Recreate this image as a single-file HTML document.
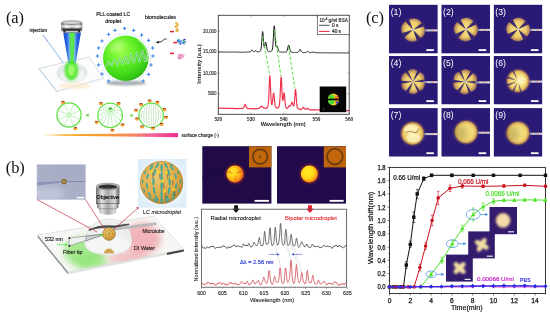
<!DOCTYPE html>
<html><head><meta charset="utf-8"><title>LC microdroplet biosensing figure</title>
<style>
html,body{margin:0;padding:0;background:#fff;}
body{width:550px;height:317px;overflow:hidden;font-family:"Liberation Sans",sans-serif;}
svg{display:block}
</style></head><body>
<svg width="550" height="317" viewBox="0 0 550 317">
<defs>
<filter id="b03" x="-20%" y="-20%" width="140%" height="140%"><feGaussianBlur stdDeviation="0.3"/></filter>
<filter id="b05" x="-20%" y="-20%" width="140%" height="140%"><feGaussianBlur stdDeviation="0.5"/></filter>
<filter id="b07" x="-20%" y="-20%" width="140%" height="140%"><feGaussianBlur stdDeviation="0.75"/></filter>
<filter id="b09" x="-20%" y="-20%" width="140%" height="140%"><feGaussianBlur stdDeviation="0.9"/></filter>
<filter id="b1" x="-30%" y="-30%" width="160%" height="160%"><feGaussianBlur stdDeviation="1"/></filter>
<filter id="b2" x="-50%" y="-50%" width="200%" height="200%"><feGaussianBlur stdDeviation="2"/></filter>
<filter id="b3" x="-50%" y="-50%" width="200%" height="200%"><feGaussianBlur stdDeviation="3"/></filter>
<radialGradient id="gsphere" cx="0.38" cy="0.32" r="0.75">
<stop offset="0" stop-color="#a4ff50"/><stop offset="0.45" stop-color="#5cee22"/><stop offset="0.85" stop-color="#36cc16"/><stop offset="1" stop-color="#24a412"/>
</radialGradient>
<radialGradient id="gglow" cx="0.5" cy="0.5" r="0.5">
<stop offset="0" stop-color="#7dff3a" stop-opacity="1"/><stop offset="0.5" stop-color="#4ae020" stop-opacity="0.8"/><stop offset="1" stop-color="#4ae020" stop-opacity="0"/>
</radialGradient>
<linearGradient id="gbar" x1="0" x2="1" y1="0" y2="0">
<stop offset="0" stop-color="#fbc040" stop-opacity="0.25"/><stop offset="0.15" stop-color="#f9aa22"/><stop offset="0.48" stop-color="#f79a36"/><stop offset="0.66" stop-color="#f48660"/><stop offset="0.82" stop-color="#f0609a"/><stop offset="1" stop-color="#ee2f8c"/>
</linearGradient>
<linearGradient id="gcone" x1="0" x2="1" y1="0" y2="0">
<stop offset="0" stop-color="#1a44d0"/><stop offset="0.22" stop-color="#2a68e4"/><stop offset="0.38" stop-color="#7ac0e0"/><stop offset="0.5" stop-color="#6ae060"/><stop offset="0.62" stop-color="#7ac0e0"/><stop offset="0.78" stop-color="#2a68e4"/><stop offset="1" stop-color="#1a44d0"/>
</linearGradient>
<linearGradient id="gmetal" x1="0" x2="1" y1="0" y2="0">
<stop offset="0" stop-color="#6d6d6d"/><stop offset="0.25" stop-color="#e2e2e2"/><stop offset="0.5" stop-color="#a8a8a8"/><stop offset="0.8" stop-color="#dcdcdc"/><stop offset="1" stop-color="#5c5c5c"/>
</linearGradient>
<radialGradient id="ggold" cx="0.4" cy="0.35" r="0.75">
<stop offset="0" stop-color="#ecc970"/><stop offset="0.6" stop-color="#dcaa48"/><stop offset="1" stop-color="#b07e2a"/>
</radialGradient>
<radialGradient id="gflower" cx="0.5" cy="0.5" r="0.5">
<stop offset="0" stop-color="#e8c868"/><stop offset="0.4" stop-color="#f7e07a"/><stop offset="0.72" stop-color="#ecc868"/><stop offset="0.9" stop-color="#c9965a"/><stop offset="1" stop-color="#8a5a6a" stop-opacity="0.6"/>
</radialGradient>
<radialGradient id="gball" cx="0.5" cy="0.5" r="0.5">
<stop offset="0" stop-color="#fbe98c"/><stop offset="0.7" stop-color="#f1d472"/><stop offset="0.9" stop-color="#c99a55"/><stop offset="1" stop-color="#7a4a6a" stop-opacity="0.5"/>
</radialGradient>
<radialGradient id="gor1" cx="0.36" cy="0.42" r="0.66">
<stop offset="0" stop-color="#fff030"/><stop offset="0.42" stop-color="#ffd01e"/><stop offset="0.78" stop-color="#ff9614"/><stop offset="1" stop-color="#e8501a"/>
</radialGradient>
<radialGradient id="gor2" cx="0.4" cy="0.4" r="0.66">
<stop offset="0" stop-color="#fff020"/><stop offset="0.55" stop-color="#ffd818"/><stop offset="0.82" stop-color="#ffa014"/><stop offset="1" stop-color="#e8601a"/>
</radialGradient>
<linearGradient id="gslideG" x1="0" x2="1" y1="0" y2="0">
<stop offset="0" stop-color="#dff2d2"/><stop offset="0.55" stop-color="#7fd46a"/><stop offset="1" stop-color="#7fd46a" stop-opacity="0"/>
</linearGradient>
<linearGradient id="gslideR" x1="0" x2="1" y1="0" y2="0">
<stop offset="0" stop-color="#e88a92" stop-opacity="0.9"/><stop offset="0.6" stop-color="#efb4b8"/><stop offset="1" stop-color="#f6e4e4"/>
</linearGradient>
<clipPath id="slideclip"><polygon points="37.6,235 153.6,216 183.8,249.4 68,272"/></clipPath>
</defs>
<rect width="550" height="317" fill="#ffffff"/>

<g id="panel-a">
<text x="5.9" y="22.5" font-size="16.4" fill="#111" text-anchor="start" font-family="Liberation Serif, serif" >(a)</text>
<text x="29.6" y="31.6" font-size="4.75" fill="#1c1c1c" text-anchor="start" font-family="Liberation Sans, sans-serif" stroke="#1c1c1c" stroke-width="0.16" >injection</text>
<polygon points="39,68.4 89,57 103.6,78 57,91.4" fill="#fcfcfa" stroke="#b4c8d4" stroke-width="0.6"/>
<polygon points="39,68.4 57,91.4 57,92.6 39,69.6" fill="#a9cfe6"/>
<polygon points="57,91.4 103.6,78 103.6,79 57,92.6" fill="#e3ecef"/>
<ellipse cx="75" cy="86" rx="16" ry="3" fill="#fbe6c8" opacity="0.7" filter="url(#b1)"/>
<ellipse cx="72" cy="73" rx="15" ry="9.5" fill="#e4ebeb" stroke="#c2d0d4" stroke-width="0.4"/>
<ellipse cx="73" cy="76" rx="12" ry="6" fill="#f6f8f8" opacity="0.8" filter="url(#b1)"/>
<line x1="47" y1="40.5" x2="63.5" y2="63" stroke="#cfe3f2" stroke-width="1.6"/>
<line x1="43" y1="35" x2="47.5" y2="41" stroke="#3a6ac8" stroke-width="0.7"/>
<line x1="47" y1="40.5" x2="63.5" y2="63" stroke="#8ab4dc" stroke-width="0.4"/>
<polygon points="63.2,32.5 81,32.5 75.5,64 68.5,64" fill="url(#gcone)" filter="url(#b03)"/>
<polygon points="69.6,32.5 74.8,32.5 73.2,68 70.8,68" fill="#58e848" filter="url(#b07)" opacity="0.95"/>
<rect x="61.2" y="22" width="21" height="9.5" rx="1.5" fill="url(#gmetal)"/>
<ellipse cx="71.7" cy="22.6" rx="10.2" ry="1.9" fill="#cfcfcf" stroke="#555" stroke-width="0.5"/>
<rect x="61.4" y="25.6" width="20.6" height="1.5" fill="#f4f4f4" opacity="0.85"/>
<path d="M62.5,28.5 h18.4 l-1.2,4 h-16z" fill="#2e2e2e"/>
<rect x="65.5" y="30.8" width="12.5" height="1.5" fill="#c8c8c8"/>
<ellipse cx="71.4" cy="70.5" rx="7" ry="10" fill="#4ce42c" opacity="0.9" filter="url(#b1)"/>
<ellipse cx="71.3" cy="70" rx="3.6" ry="6" fill="#a8ff70" opacity="0.9" filter="url(#b1)"/>
<ellipse cx="126" cy="83" rx="20" ry="2.6" fill="#8a8f94" opacity="0.75" filter="url(#b1)"/>
<circle cx="125.8" cy="58.3" r="24.8" fill="none" stroke="#b9daf2" stroke-width="1.1" stroke-dasharray="1.2 1.4" opacity="0.9"/>
<circle cx="125.8" cy="58.3" r="22.8" fill="url(#gsphere)"/>
<ellipse cx="117" cy="46" rx="8" ry="4" fill="#dcffb8" opacity="0.4" filter="url(#b2)" transform="rotate(-30 117 46)"/>
<path d="M138,40 a22,22 0 0 1 9,22" fill="none" stroke="#d8ffc0" stroke-width="1.2" opacity="0.5" filter="url(#b05)"/>
<polyline points="105.5,66.2 105.7,66.3 106.0,66.2 106.2,66.0 106.5,65.7 106.7,65.3 107.0,64.7 107.2,64.2 107.5,63.6 107.7,63.0 107.9,62.5 108.2,62.1 108.4,61.8 108.7,61.7 108.9,61.7 109.2,61.9 109.4,62.2 109.7,62.6 109.9,63.1 110.1,63.7 110.4,64.2 110.6,64.7 110.9,65.2 111.1,65.4 111.4,65.5 111.6,65.5 111.8,65.2 112.1,64.8 112.3,64.3 112.6,63.6 112.8,62.9 113.1,62.1 113.3,61.4 113.6,60.8 113.8,60.3 114.0,59.9 114.3,59.8 114.5,59.9 114.8,60.1 115.0,60.5 115.3,61.1 115.5,61.8 115.8,62.5 116.0,63.2 116.2,63.8 116.5,64.3 116.7,64.7 117.0,64.8 117.2,64.7 117.5,64.5 117.7,64.0 118.0,63.3 118.2,62.5 118.4,61.6 118.7,60.7 118.9,59.8 119.2,59.1 119.4,58.5 119.7,58.1 119.9,58.0 120.1,58.0 120.4,58.4 120.6,58.9 120.9,59.6 121.1,60.4 121.4,61.3 121.6,62.2 121.9,62.9 122.1,63.5 122.3,63.9 122.6,64.1 122.8,64.0 123.1,63.7 123.3,63.1 123.6,62.3 123.8,61.3 124.1,60.3 124.3,59.2 124.5,58.2 124.8,57.4 125.0,56.7 125.3,56.3 125.5,56.1 125.8,56.2 126.0,56.6 126.2,57.3 126.5,58.1 126.7,59.1 127.0,60.1 127.2,61.1 127.5,62.0 127.7,62.7 128.0,63.2 128.2,63.4 128.4,63.3 128.7,62.9 128.9,62.2 129.2,61.3 129.4,60.2 129.7,59.0 129.9,57.7 130.2,56.6 130.4,55.6 130.6,54.9 130.9,54.4 131.1,54.2 131.4,54.4 131.6,54.9 131.9,55.7 132.1,56.6 132.4,57.8 132.6,58.9 132.8,60.1 133.1,61.1 133.3,61.9 133.6,62.5 133.8,62.7 134.1,62.5 134.3,62.1 134.6,61.3 134.8,60.2 135.0,59.0 135.3,57.6 135.5,56.3 135.8,55.0 136.0,53.9 136.3,53.1 136.5,52.6 136.7,52.4 137.0,52.6 137.2,53.2 137.5,54.1 137.7,55.2 138.0,56.4 138.2,57.8 138.5,59.1 138.7,60.2 138.9,61.1 139.2,61.7 139.4,62.0 139.7,61.8 139.9,61.3 140.2,60.4 140.4,59.2 140.7,57.8 140.9,56.3 141.1,54.8 141.4,53.4 141.6,52.2 141.9,51.3 142.1,50.7 142.4,50.6 142.6,50.8 142.8,51.5 143.1,52.4 143.3,53.7 143.6,55.1 143.8,56.6 144.1,58.1 144.3,59.3 144.6,60.3 144.8,61.0 145.0,61.2 145.3,61.1 145.5,60.5 145.8,59.5 146.0,58.2 146.3,56.6 146.5,55.0 146.8,53.3 147.0,51.8" fill="none" stroke="#e4ffd8" stroke-width="1.7" opacity="0.7" filter="url(#b03)"/>
<polyline points="105.5,66.2 105.7,66.3 106.0,66.2 106.2,66.0 106.5,65.7 106.7,65.3 107.0,64.7 107.2,64.2 107.5,63.6 107.7,63.0 107.9,62.5 108.2,62.1 108.4,61.8 108.7,61.7 108.9,61.7 109.2,61.9 109.4,62.2 109.7,62.6 109.9,63.1 110.1,63.7 110.4,64.2 110.6,64.7 110.9,65.2 111.1,65.4 111.4,65.5 111.6,65.5 111.8,65.2 112.1,64.8 112.3,64.3 112.6,63.6 112.8,62.9 113.1,62.1 113.3,61.4 113.6,60.8 113.8,60.3 114.0,59.9 114.3,59.8 114.5,59.9 114.8,60.1 115.0,60.5 115.3,61.1 115.5,61.8 115.8,62.5 116.0,63.2 116.2,63.8 116.5,64.3 116.7,64.7 117.0,64.8 117.2,64.7 117.5,64.5 117.7,64.0 118.0,63.3 118.2,62.5 118.4,61.6 118.7,60.7 118.9,59.8 119.2,59.1 119.4,58.5 119.7,58.1 119.9,58.0 120.1,58.0 120.4,58.4 120.6,58.9 120.9,59.6 121.1,60.4 121.4,61.3 121.6,62.2 121.9,62.9 122.1,63.5 122.3,63.9 122.6,64.1 122.8,64.0 123.1,63.7 123.3,63.1 123.6,62.3 123.8,61.3 124.1,60.3 124.3,59.2 124.5,58.2 124.8,57.4 125.0,56.7 125.3,56.3 125.5,56.1 125.8,56.2 126.0,56.6 126.2,57.3 126.5,58.1 126.7,59.1 127.0,60.1 127.2,61.1 127.5,62.0 127.7,62.7 128.0,63.2 128.2,63.4 128.4,63.3 128.7,62.9 128.9,62.2 129.2,61.3 129.4,60.2 129.7,59.0 129.9,57.7 130.2,56.6 130.4,55.6 130.6,54.9 130.9,54.4 131.1,54.2 131.4,54.4 131.6,54.9 131.9,55.7 132.1,56.6 132.4,57.8 132.6,58.9 132.8,60.1 133.1,61.1 133.3,61.9 133.6,62.5 133.8,62.7 134.1,62.5 134.3,62.1 134.6,61.3 134.8,60.2 135.0,59.0 135.3,57.6 135.5,56.3 135.8,55.0 136.0,53.9 136.3,53.1 136.5,52.6 136.7,52.4 137.0,52.6 137.2,53.2 137.5,54.1 137.7,55.2 138.0,56.4 138.2,57.8 138.5,59.1 138.7,60.2 138.9,61.1 139.2,61.7 139.4,62.0 139.7,61.8 139.9,61.3 140.2,60.4 140.4,59.2 140.7,57.8 140.9,56.3 141.1,54.8 141.4,53.4 141.6,52.2 141.9,51.3 142.1,50.7 142.4,50.6 142.6,50.8 142.8,51.5 143.1,52.4 143.3,53.7 143.6,55.1 143.8,56.6 144.1,58.1 144.3,59.3 144.6,60.3 144.8,61.0 145.0,61.2 145.3,61.1 145.5,60.5 145.8,59.5 146.0,58.2 146.3,56.6 146.5,55.0 146.8,53.3 147.0,51.8" fill="none" stroke="#28a848" stroke-width="0.7" opacity="0.95"/>
<path d="M113.3,30.4h3.4M115.0,28.7v3.4" stroke="#3b82e6" stroke-width="1"/>
<path d="M122.9,28.4h3.4M124.6,26.7v3.4" stroke="#3b82e6" stroke-width="1"/>
<path d="M131.9,30.4h3.4M133.6,28.7v3.4" stroke="#3b82e6" stroke-width="1"/>
<path d="M139.9,35.0h3.4M141.6,33.3v3.4" stroke="#3b82e6" stroke-width="1"/>
<path d="M146.9,40.4h3.4M148.6,38.7v3.4" stroke="#3b82e6" stroke-width="1"/>
<path d="M150.9,48.0h3.4M152.6,46.3v3.4" stroke="#3b82e6" stroke-width="1"/>
<path d="M151.3,56.0h3.4M153.0,54.3v3.4" stroke="#3b82e6" stroke-width="1"/>
<path d="M149.3,65.0h3.4M151.0,63.3v3.4" stroke="#3b82e6" stroke-width="1"/>
<path d="M146.9,74.4h3.4M148.6,72.7v3.4" stroke="#3b82e6" stroke-width="1"/>
<path d="M141.3,81.0h3.4M143.0,79.3v3.4" stroke="#3b82e6" stroke-width="1"/>
<path d="M106.9,34.4h3.4M108.6,32.7v3.4" stroke="#3b82e6" stroke-width="1"/>
<path d="M100.3,41.0h3.4M102.0,39.3v3.4" stroke="#3b82e6" stroke-width="1"/>
<path d="M96.9,48.0h3.4M98.6,46.3v3.4" stroke="#3b82e6" stroke-width="1"/>
<path d="M95.7,56.0h3.4M97.4,54.3v3.4" stroke="#3b82e6" stroke-width="1"/>
<path d="M96.9,65.0h3.4M98.6,63.3v3.4" stroke="#3b82e6" stroke-width="1"/>
<path d="M100.3,74.0h3.4M102.0,72.3v3.4" stroke="#3b82e6" stroke-width="1"/>
<path d="M106.9,81.0h3.4M108.6,79.3v3.4" stroke="#3b82e6" stroke-width="1"/>
<text x="113.2" y="16.2" font-size="5.2" fill="#1c1c1c" text-anchor="middle" font-family="Liberation Sans, sans-serif" stroke="#1c1c1c" stroke-width="0.18" >PLL coated LC</text>
<text x="113.2" y="22.8" font-size="5.2" fill="#1c1c1c" text-anchor="middle" font-family="Liberation Sans, sans-serif" stroke="#1c1c1c" stroke-width="0.18" >droplet</text>
<text x="145" y="18.6" font-size="5.3" fill="#1c1c1c" text-anchor="start" font-family="Liberation Sans, sans-serif" stroke="#1c1c1c" stroke-width="0.18" >biomolecules</text>
<g filter="url(#b03)">
<path d="M175.7,23.0 L177.6,22.6 L176.6,23.2 L177.0,23.9 L175.4,23.3 L178.2,24.1 L177.6,23.9 L176.5,25.1 L175.5,25.7 L178.5,24.9 L175.3,25.8 L177.9,25.9 L175.3,26.3 L174.8,26.4 L176.5,27.0 L175.5,27.0 L175.3,27.6 L176.0,27.4 L177.6,28.4 L177.3,28.3 L178.4,29.4 L175.7,29.1 L177.5,29.8 L178.6,29.8 L177.5,30.4 L176.0,30.6 L178.4,31.3 L176.6,31.3 L175.5,31.2 L177.8,31.7" fill="none" stroke="#e0a834" stroke-width="0.75" stroke-linejoin="round"/>
<path d="M177.7,23.3 L175.6,22.7 L178.1,24.0 L177.3,23.9 L177.1,24.7 L177.2,24.6 L176.7,25.3 L177.3,26.5 L178.2,26.4 L176.7,26.5 L175.9,26.7 L176.8,27.4 L176.5,28.6 L177.0,28.6 L176.4,28.4 L176.4,29.0 L176.9,30.5 L177.3,29.9 L177.8,31.1 L177.7,31.7" fill="none" stroke="#eec060" stroke-width="0.5" stroke-linejoin="round"/>
<ellipse cx="181.4" cy="42" rx="3.6" ry="2.2" fill="#3a6ed8" opacity="0.55"/>
<circle cx="179.4" cy="39.9" r="0.72" fill="#38b858"/>
<circle cx="178.3" cy="39.5" r="0.91" fill="#48c8e0"/>
<circle cx="183.7" cy="43.2" r="0.73" fill="#2a5ae0"/>
<circle cx="180.3" cy="43.3" r="0.62" fill="#2a5ae0"/>
<circle cx="184.8" cy="39.5" r="0.86" fill="#1a3ab0"/>
<circle cx="183.7" cy="40.4" r="0.63" fill="#38b858"/>
<circle cx="184.2" cy="44.2" r="0.54" fill="#38b858"/>
<circle cx="182.2" cy="42.8" r="0.61" fill="#48c8e0"/>
<circle cx="179.5" cy="40.8" r="0.88" fill="#48c8e0"/>
<circle cx="177.7" cy="40.9" r="0.90" fill="#1a3ab0"/>
<circle cx="184.0" cy="41.9" r="0.69" fill="#38b858"/>
<circle cx="179.8" cy="41.7" r="0.64" fill="#2a5ae0"/>
<circle cx="183.8" cy="39.6" r="0.71" fill="#2a5ae0"/>
<circle cx="185.2" cy="42.0" r="0.71" fill="#1a3ab0"/>
<circle cx="180.2" cy="44.4" r="0.53" fill="#2a5ae0"/>
<circle cx="184.5" cy="42.6" r="0.62" fill="#38b858"/>
<ellipse cx="180.6" cy="56.6" rx="3.6" ry="2.6" fill="#f0a8d0" opacity="0.55"/>
<circle cx="179.2" cy="58.3" r="0.86" fill="none" stroke="#e070b0" stroke-width="0.5"/>
<circle cx="181.7" cy="55.1" r="0.92" fill="none" stroke="#e070b0" stroke-width="0.5"/>
<circle cx="183.2" cy="55.6" r="1.12" fill="none" stroke="#e070b0" stroke-width="0.5"/>
<circle cx="180.4" cy="56.4" r="1.05" fill="none" stroke="#e070b0" stroke-width="0.5"/>
<circle cx="179.0" cy="57.8" r="0.84" fill="none" stroke="#e070b0" stroke-width="0.5"/>
<circle cx="179.2" cy="54.9" r="0.93" fill="none" stroke="#e070b0" stroke-width="0.5"/>
<circle cx="180.1" cy="58.0" r="0.99" fill="none" stroke="#e070b0" stroke-width="0.5"/>
</g>
<rect x="170" y="30.85" width="4" height="1.5" fill="#e0202a"/>
<rect x="173.2" y="41.85" width="4" height="1.5" fill="#e0202a"/>
<rect x="170" y="52.65" width="4" height="1.5" fill="#e0202a"/>
<path d="M166.6,39 q-2.5,-0.6 -3.6,1.4 q-1.2,2 -4.6,1.6" fill="none" stroke="#222" stroke-width="0.9"/>
<path d="M155.6,42.6 l3.2,-1.8 l0.2,2.6z" fill="#222"/>
<circle cx="69" cy="115" r="12.1" fill="#fff" stroke="#5ee040" stroke-width="1.25"/>
<line x1="71.0" y1="115.8" x2="79.1" y2="119.2" stroke="#58d848" stroke-width="0.65" stroke-dasharray="1.4 1"/>
<line x1="69.8" y1="117.0" x2="73.2" y2="125.1" stroke="#58d848" stroke-width="0.65" stroke-dasharray="1.4 1"/>
<line x1="68.2" y1="117.0" x2="64.8" y2="125.1" stroke="#58d848" stroke-width="0.65" stroke-dasharray="1.4 1"/>
<line x1="67.0" y1="115.8" x2="58.9" y2="119.2" stroke="#58d848" stroke-width="0.65" stroke-dasharray="1.4 1"/>
<line x1="67.0" y1="114.2" x2="58.9" y2="110.8" stroke="#58d848" stroke-width="0.65" stroke-dasharray="1.4 1"/>
<line x1="68.2" y1="113.0" x2="64.8" y2="104.9" stroke="#58d848" stroke-width="0.65" stroke-dasharray="1.4 1"/>
<line x1="69.8" y1="113.0" x2="73.2" y2="104.9" stroke="#58d848" stroke-width="0.65" stroke-dasharray="1.4 1"/>
<line x1="71.0" y1="114.2" x2="79.1" y2="110.8" stroke="#58d848" stroke-width="0.65" stroke-dasharray="1.4 1"/>
<circle cx="69" cy="115" r="1.4" fill="none" stroke="#58d848" stroke-width="0.5"/>
<circle cx="110.1" cy="115.3" r="12.3" fill="#fff" stroke="#5ee040" stroke-width="1.25"/>
<line x1="112.0" y1="109.8" x2="121.1" y2="115.3" stroke="#58d848" stroke-width="0.65" stroke-dasharray="1.3 1"/>
<line x1="111.8" y1="110.5" x2="120.0" y2="120.1" stroke="#58d848" stroke-width="0.65" stroke-dasharray="1.3 1"/>
<line x1="111.4" y1="111.1" x2="117.0" y2="123.9" stroke="#58d848" stroke-width="0.65" stroke-dasharray="1.3 1"/>
<line x1="110.7" y1="111.4" x2="112.5" y2="126.0" stroke="#58d848" stroke-width="0.65" stroke-dasharray="1.3 1"/>
<line x1="110.0" y1="111.4" x2="107.7" y2="126.0" stroke="#58d848" stroke-width="0.65" stroke-dasharray="1.3 1"/>
<line x1="109.3" y1="111.1" x2="103.2" y2="123.9" stroke="#58d848" stroke-width="0.65" stroke-dasharray="1.3 1"/>
<line x1="108.9" y1="110.5" x2="100.2" y2="120.1" stroke="#58d848" stroke-width="0.65" stroke-dasharray="1.3 1"/>
<line x1="108.7" y1="109.8" x2="99.1" y2="115.3" stroke="#58d848" stroke-width="0.65" stroke-dasharray="1.3 1"/>
<line x1="108.9" y1="109.1" x2="100.2" y2="110.5" stroke="#58d848" stroke-width="0.65" stroke-dasharray="1.3 1"/>
<line x1="109.3" y1="108.5" x2="103.2" y2="106.7" stroke="#58d848" stroke-width="0.65" stroke-dasharray="1.3 1"/>
<line x1="110.0" y1="108.2" x2="107.7" y2="104.6" stroke="#58d848" stroke-width="0.65" stroke-dasharray="1.3 1"/>
<line x1="110.7" y1="108.2" x2="112.5" y2="104.6" stroke="#58d848" stroke-width="0.65" stroke-dasharray="1.3 1"/>
<line x1="111.4" y1="108.5" x2="117.0" y2="106.7" stroke="#58d848" stroke-width="0.65" stroke-dasharray="1.3 1"/>
<line x1="111.8" y1="109.1" x2="120.0" y2="110.5" stroke="#58d848" stroke-width="0.65" stroke-dasharray="1.3 1"/>
<circle cx="110.39999999999999" cy="108.8" r="1.4" fill="#3fa83a"/>
<circle cx="151.2" cy="115.3" r="12.2" fill="#fff" stroke="#5ee040" stroke-width="1.25"/>
<path d="M143.2,111.0 Q139.6,115.3 143.2,119.6" fill="none" stroke="#78b868" stroke-width="0.6" stroke-dasharray="1.4 0.9"/>
<path d="M145.2,107.4 Q142.5,115.3 145.2,123.2" fill="none" stroke="#78b868" stroke-width="0.6" stroke-dasharray="1.4 0.9"/>
<path d="M147.2,105.6 Q145.4,115.3 147.2,125.0" fill="none" stroke="#78b868" stroke-width="0.6" stroke-dasharray="1.4 0.9"/>
<path d="M149.2,104.7 Q148.3,115.3 149.2,125.9" fill="none" stroke="#78b868" stroke-width="0.6" stroke-dasharray="1.4 0.9"/>
<path d="M151.2,104.4 Q151.2,115.3 151.2,126.2" fill="none" stroke="#78b868" stroke-width="0.6" stroke-dasharray="1.4 0.9"/>
<path d="M153.2,104.7 Q154.1,115.3 153.2,125.9" fill="none" stroke="#78b868" stroke-width="0.6" stroke-dasharray="1.4 0.9"/>
<path d="M155.2,105.6 Q157.0,115.3 155.2,125.0" fill="none" stroke="#78b868" stroke-width="0.6" stroke-dasharray="1.4 0.9"/>
<path d="M157.2,107.4 Q159.9,115.3 157.2,123.2" fill="none" stroke="#78b868" stroke-width="0.6" stroke-dasharray="1.4 0.9"/>
<path d="M159.2,111.0 Q162.8,115.3 159.2,119.6" fill="none" stroke="#78b868" stroke-width="0.6" stroke-dasharray="1.4 0.9"/>
<path d="M60.8,101.7 h4.4 a2.2,2.4 0 0 1 -4.4,0z" fill="#f2a02c"/>
<rect x="61.4" y="100.9" width="3.2" height="1" fill="#a83c1c"/>
<path d="M73.2,127.9 h4.4 a2.2,2.4 0 0 1 -4.4,0z" fill="#f2a02c"/>
<rect x="73.8" y="127.1" width="3.2" height="1" fill="#a83c1c"/>
<path d="M98.8,102.9 h4.4 a2.2,2.4 0 0 1 -4.4,0z" fill="#f2a02c"/>
<rect x="99.4" y="102.1" width="3.2" height="1" fill="#a83c1c"/>
<path d="M116.4,102.9 h4.4 a2.2,2.4 0 0 1 -4.4,0z" fill="#f2a02c"/>
<rect x="117.0" y="102.1" width="3.2" height="1" fill="#a83c1c"/>
<path d="M94.4,121.7 h4.4 a2.2,2.4 0 0 1 -4.4,0z" fill="#f2a02c"/>
<rect x="95.0" y="120.9" width="3.2" height="1" fill="#a83c1c"/>
<path d="M110.2,129.7 h4.4 a2.2,2.4 0 0 1 -4.4,0z" fill="#f2a02c"/>
<rect x="110.8" y="128.9" width="3.2" height="1" fill="#a83c1c"/>
<path d="M120.4,124.3 h4.4 a2.2,2.4 0 0 1 -4.4,0z" fill="#f2a02c"/>
<rect x="121.0" y="123.5" width="3.2" height="1" fill="#a83c1c"/>
<path d="M147.4,100.3 h4.4 a2.2,2.4 0 0 1 -4.4,0z" fill="#f2a02c"/>
<rect x="148.0" y="99.5" width="3.2" height="1" fill="#a83c1c"/>
<path d="M155.2,101.7 h4.4 a2.2,2.4 0 0 1 -4.4,0z" fill="#f2a02c"/>
<rect x="155.8" y="100.9" width="3.2" height="1" fill="#a83c1c"/>
<path d="M138.8,103.9 h4.4 a2.2,2.4 0 0 1 -4.4,0z" fill="#f2a02c"/>
<rect x="139.4" y="103.1" width="3.2" height="1" fill="#a83c1c"/>
<path d="M162.2,108.9 h4.4 a2.2,2.4 0 0 1 -4.4,0z" fill="#f2a02c"/>
<rect x="162.8" y="108.1" width="3.2" height="1" fill="#a83c1c"/>
<path d="M133.8,109.7 h4.4 a2.2,2.4 0 0 1 -4.4,0z" fill="#f2a02c"/>
<rect x="134.4" y="108.9" width="3.2" height="1" fill="#a83c1c"/>
<path d="M163.8,116.7 h4.4 a2.2,2.4 0 0 1 -4.4,0z" fill="#f2a02c"/>
<rect x="164.4" y="115.9" width="3.2" height="1" fill="#a83c1c"/>
<path d="M134.8,118.3 h4.4 a2.2,2.4 0 0 1 -4.4,0z" fill="#f2a02c"/>
<rect x="135.4" y="117.5" width="3.2" height="1" fill="#a83c1c"/>
<path d="M159.4,123.7 h4.4 a2.2,2.4 0 0 1 -4.4,0z" fill="#f2a02c"/>
<rect x="160.0" y="122.9" width="3.2" height="1" fill="#a83c1c"/>
<path d="M139.8,126.3 h4.4 a2.2,2.4 0 0 1 -4.4,0z" fill="#f2a02c"/>
<rect x="140.4" y="125.5" width="3.2" height="1" fill="#a83c1c"/>
<path d="M150.8,127.7 h4.4 a2.2,2.4 0 0 1 -4.4,0z" fill="#f2a02c"/>
<rect x="151.4" y="126.9" width="3.2" height="1" fill="#a83c1c"/>
<path d="M85.6,115.2 l3,-1.7 v3.4z" fill="#58d040"/>
<path d="M129.6,115.4 l3,-1.7 v3.4z" fill="#58d040"/>
<polygon points="44,134.6 178,133 178,137.2 44,135.4" fill="url(#gbar)"/>
<text x="181.4" y="136.7" font-size="4.75" fill="#1c1c1c" text-anchor="start" font-family="Liberation Sans, sans-serif" stroke="#1c1c1c" stroke-width="0.14" >surface charge (-)</text>
</g>
<g id="spectrum-a">
<polyline points="218.30,51.87 218.55,51.92 218.80,52.14 219.06,51.86 219.31,52.03 219.56,51.96 219.81,52.05 220.06,51.95 220.31,52.06 220.57,52.01 220.82,52.05 221.07,52.13 221.32,52.04 221.57,51.91 221.82,51.88 222.08,52.15 222.33,52.02 222.58,51.93 222.83,52.16 223.08,52.05 223.33,52.10 223.59,52.14 223.84,51.97 224.09,51.99 224.34,52.15 224.59,51.93 224.84,52.12 225.10,51.92 225.35,52.10 225.60,52.10 225.85,52.18 226.10,52.15 226.36,52.05 226.61,51.96 226.86,51.95 227.11,52.06 227.36,52.06 227.61,51.93 227.87,52.18 228.12,52.06 228.37,52.12 228.62,51.98 228.87,51.99 229.12,51.92 229.38,52.02 229.63,52.00 229.88,52.05 230.13,52.04 230.38,52.18 230.63,52.19 230.89,51.98 231.14,52.05 231.39,51.98 231.64,52.13 231.89,52.23 232.15,52.00 232.40,52.17 232.65,52.03 232.90,51.95 233.15,52.17 233.40,52.05 233.66,52.00 233.91,52.08 234.16,52.02 234.41,52.07 234.66,52.09 234.91,52.08 235.17,52.13 235.42,52.04 235.67,51.99 235.92,51.99 236.17,51.99 236.42,52.12 236.68,52.07 236.93,52.21 237.18,52.12 237.43,52.18 237.68,52.26 237.94,51.99 238.19,51.98 238.44,52.02 238.69,52.09 238.94,52.15 239.19,52.20 239.45,52.08 239.70,52.27 239.95,51.98 240.20,52.23 240.45,52.05 240.70,52.25 240.96,52.00 241.21,52.28 241.46,52.22 241.71,52.29 241.96,52.16 242.21,52.04 242.47,52.28 242.72,52.12 242.97,52.02 243.22,52.17 243.47,52.14 243.72,52.14 243.98,52.04 244.23,52.03 244.48,52.17 244.73,52.13 244.98,52.03 245.24,52.13 245.49,52.21 245.74,52.21 245.99,52.13 246.24,52.11 246.49,52.10 246.75,52.05 247.00,52.04 247.25,52.12 247.50,52.01 247.75,52.19 248.00,52.18 248.26,52.15 248.51,51.96 248.76,52.06 249.01,52.07 249.26,51.95 249.51,52.19 249.77,52.08 250.02,51.94 250.27,51.90 250.52,51.58 250.77,51.34 251.03,51.10 251.28,50.78 251.53,50.37 251.78,49.88 252.03,49.96 252.28,50.19 252.54,50.44 252.79,50.87 253.04,51.25 253.29,51.30 253.54,51.52 253.79,51.68 254.05,51.81 254.30,51.54 254.55,51.55 254.80,51.30 255.05,50.96 255.30,50.79 255.56,50.79 255.81,50.78 256.06,50.80 256.31,51.20 256.56,51.24 256.81,51.49 257.07,51.81 257.32,51.87 257.57,51.76 257.82,51.78 258.07,51.87 258.33,51.92 258.58,51.84 258.83,51.88 259.08,51.76 259.33,51.73 259.58,51.58 259.84,51.39 260.09,51.26 260.34,51.03 260.59,50.63 260.84,50.01 261.09,48.63 261.35,46.63 261.60,44.03 261.85,40.31 262.10,36.44 262.35,32.99 262.60,31.57 262.86,32.23 263.11,35.09 263.36,38.95 263.61,42.39 263.86,45.02 264.12,46.82 264.37,47.23 264.62,46.84 264.87,45.98 265.12,44.51 265.37,43.13 265.63,42.15 265.88,42.40 266.13,43.35 266.38,45.00 266.63,46.59 266.88,48.26 267.14,49.48 267.39,50.23 267.64,50.87 267.89,51.25 268.14,51.52 268.39,51.61 268.65,51.64 268.90,51.49 269.15,51.65 269.40,51.68 269.65,51.50 269.90,51.60 270.16,51.69 270.41,51.66 270.66,51.61 270.91,51.28 271.16,51.33 271.42,51.25 271.67,50.97 271.92,50.50 272.17,49.81 272.42,49.03 272.67,47.33 272.93,44.71 273.18,41.09 273.43,36.85 273.68,32.14 273.93,28.03 274.18,25.79 274.44,26.25 274.69,29.28 274.94,33.67 275.19,38.17 275.44,42.05 275.69,44.68 275.95,46.46 276.20,46.96 276.45,46.81 276.70,46.38 276.95,45.98 277.20,45.90 277.46,46.44 277.71,47.10 277.96,48.19 278.21,49.23 278.46,50.05 278.72,50.86 278.97,51.11 279.22,51.38 279.47,51.72 279.72,51.89 279.97,52.00 280.23,51.98 280.48,51.95 280.73,52.16 280.98,52.15 281.23,52.10 281.48,52.14 281.74,52.27 281.99,52.31 282.24,52.30 282.49,52.08 282.74,52.14 282.99,52.17 283.25,52.11 283.50,52.29 283.75,52.08 284.00,52.32 284.25,52.23 284.51,52.23 284.76,52.15 285.01,52.29 285.26,52.16 285.51,52.22 285.76,52.18 286.02,52.03 286.27,51.99 286.52,51.63 286.77,51.25 287.02,50.87 287.27,50.04 287.53,49.01 287.78,47.97 288.03,46.71 288.28,45.55 288.53,45.14 288.78,45.04 289.04,45.82 289.29,46.74 289.54,48.08 289.79,49.04 290.04,49.99 290.29,50.83 290.55,51.43 290.80,51.80 291.05,51.97 291.30,51.95 291.55,52.12 291.81,52.07 292.06,52.21 292.31,52.42 292.56,52.27 292.81,52.39 293.06,52.39 293.32,52.26 293.57,52.44 293.82,52.27 294.07,52.31 294.32,52.44 294.57,52.31 294.83,52.57 295.08,52.41 295.33,52.48 295.58,52.58 295.83,52.32 296.08,52.59 296.34,52.30 296.59,52.46 296.84,52.47 297.09,52.56 297.34,52.36 297.60,52.50 297.85,52.37 298.10,52.23 298.35,52.00 298.60,51.79 298.85,51.49 299.11,51.03 299.36,50.49 299.61,50.06 299.86,49.50 300.11,49.41 300.36,49.40 300.62,49.87 300.87,50.61 301.12,51.21 301.37,51.50 301.62,51.76 301.87,52.06 302.13,52.24 302.38,52.33 302.63,52.45 302.88,52.40 303.13,52.53 303.38,52.58 303.64,52.60 303.89,52.59 304.14,52.55 304.39,52.46 304.64,52.64 304.90,52.47 305.15,52.63 305.40,52.50 305.65,52.52 305.90,52.43 306.15,52.39 306.41,52.17 306.66,52.06 306.91,51.91 307.16,51.59 307.41,51.51 307.66,51.42 307.92,51.50 308.17,51.65 308.42,51.91 308.67,52.16 308.92,52.17 309.17,52.29 309.43,52.58 309.68,52.41 309.93,52.65 310.18,52.65 310.43,52.49 310.69,52.61 310.94,52.48 311.19,52.64 311.44,52.39 311.69,52.32 311.94,52.23 312.20,52.36 312.45,52.13 312.70,52.09 312.95,52.25 313.20,52.16 313.45,52.18 313.71,52.19 313.96,52.28 314.21,52.17 314.46,52.50 314.71,52.42 314.96,52.64 315.22,52.56 315.47,52.75 315.72,52.50 315.97,52.81 316.22,52.56 316.48,52.70 316.73,52.70 316.98,52.85 317.23,52.78 317.48,52.86 317.73,52.84 317.99,52.70 318.24,52.63 318.49,52.63 318.74,52.80 318.99,52.88 319.24,52.79 319.50,52.70 319.75,52.78 320.00,52.80 320.25,52.68 320.50,52.82 320.75,52.67 321.01,52.62 321.26,52.63 321.51,52.76 321.76,52.83 322.01,52.69 322.26,52.74 322.52,52.84 322.77,52.71 323.02,52.79 323.27,52.82 323.52,52.76 323.78,52.70 324.03,52.85 324.28,52.85 324.53,52.70 324.78,52.89 325.03,52.85 325.29,52.91 325.54,52.89 325.79,52.81 326.04,52.87 326.29,52.76 326.54,52.86 326.80,52.69 327.05,52.77 327.30,52.82 327.55,52.94 327.80,52.88 328.05,52.95 328.31,52.94 328.56,52.97 328.81,52.87 329.06,52.87 329.31,52.83 329.56,52.76 329.82,52.93 330.07,52.88 330.32,52.74 330.57,52.77 330.82,52.77 331.08,52.92 331.33,52.88 331.58,52.77 331.83,52.91 332.08,52.88 332.33,52.79 332.59,52.85 332.84,53.01 333.09,52.76 333.34,52.79 333.59,52.90 333.84,52.98 334.10,53.00 334.35,52.85 334.60,52.96 334.85,52.77 335.10,52.85 335.35,52.99 335.61,52.94 335.86,52.87 336.11,52.92 336.36,52.89 336.61,52.91 336.87,53.01 337.12,53.04 337.37,52.81 337.62,52.98 337.87,53.04 338.12,52.94 338.38,52.91 338.63,52.87 338.88,52.91 339.13,52.94 339.38,52.95 339.63,52.80 339.89,53.07 340.14,52.86 340.39,52.94 340.64,52.84 340.89,52.97 341.14,52.80 341.40,52.88 341.65,52.90 341.90,52.88 342.15,52.94 342.40,52.84 342.65,52.94 342.91,53.03 343.16,52.99 343.41,53.09 343.66,53.09 343.91,52.95 344.17,52.95 344.42,53.04 344.67,53.07 344.92,52.97 345.17,53.01 345.42,53.02 345.68,52.97 345.93,52.97 346.18,52.94 346.43,52.96 346.68,52.97 346.93,53.07 347.19,52.88 347.44,52.87 347.69,53.11 347.94,52.99 348.19,53.05 348.44,53.11 348.70,53.06 348.95,53.01 349.20,53.13" fill="none" stroke="#1a1a1a" stroke-width="1.0" stroke-linejoin="round"/>
<polyline points="218.30,108.22 218.55,108.17 218.80,108.10 219.06,108.10 219.31,108.29 219.56,108.33 219.81,108.17 220.06,108.23 220.31,108.28 220.57,108.26 220.82,108.16 221.07,108.36 221.32,108.26 221.57,108.31 221.82,108.31 222.08,108.23 222.33,108.32 222.58,108.17 222.83,108.28 223.08,108.32 223.33,108.31 223.59,108.22 223.84,108.19 224.09,108.17 224.34,108.18 224.59,108.20 224.84,108.30 225.10,108.33 225.35,108.37 225.60,108.30 225.85,108.40 226.10,108.18 226.36,108.28 226.61,108.22 226.86,108.34 227.11,108.36 227.36,108.37 227.61,108.33 227.87,108.31 228.12,108.31 228.37,108.24 228.62,108.27 228.87,108.37 229.12,108.40 229.38,108.26 229.63,108.49 229.88,108.25 230.13,108.28 230.38,108.38 230.63,108.35 230.89,108.41 231.14,108.47 231.39,108.44 231.64,108.50 231.89,108.41 232.15,108.48 232.40,108.40 232.65,108.32 232.90,108.31 233.15,108.35 233.40,108.43 233.66,108.38 233.91,108.47 234.16,108.51 234.41,108.59 234.66,108.36 234.91,108.60 235.17,108.32 235.42,108.59 235.67,108.62 235.92,108.44 236.17,108.57 236.42,108.49 236.68,108.51 236.93,108.60 237.18,108.63 237.43,108.44 237.68,108.42 237.94,108.63 238.19,108.54 238.44,108.63 238.69,108.43 238.94,108.62 239.19,108.41 239.45,108.41 239.70,108.45 239.95,108.64 240.20,108.48 240.45,108.49 240.70,108.45 240.96,108.38 241.21,108.48 241.46,108.49 241.71,108.43 241.96,108.54 242.21,108.39 242.47,108.56 242.72,108.50 242.97,108.32 243.22,108.04 243.47,107.95 243.72,107.61 243.98,107.11 244.23,106.38 244.48,105.74 244.73,105.13 244.98,104.59 245.24,104.35 245.49,104.91 245.74,105.58 245.99,106.30 246.24,107.11 246.49,107.39 246.75,107.77 247.00,108.24 247.25,108.21 247.50,108.32 247.75,108.59 248.00,108.49 248.26,108.67 248.51,108.67 248.76,108.65 249.01,108.57 249.26,108.50 249.51,108.78 249.77,108.76 250.02,108.78 250.27,108.67 250.52,108.60 250.77,108.71 251.03,108.66 251.28,108.60 251.53,108.58 251.78,108.67 252.03,108.60 252.28,108.64 252.54,108.85 252.79,108.84 253.04,108.83 253.29,108.72 253.54,108.80 253.79,108.62 254.05,108.76 254.30,108.86 254.55,108.81 254.80,108.87 255.05,108.76 255.30,108.66 255.56,108.57 255.81,108.65 256.06,108.81 256.31,108.72 256.56,108.74 256.81,108.78 257.07,108.62 257.32,108.56 257.57,108.76 257.82,108.64 258.07,108.43 258.33,108.57 258.58,108.50 258.83,108.41 259.08,108.08 259.33,107.95 259.58,107.88 259.84,107.63 260.09,107.27 260.34,107.17 260.59,106.70 260.84,106.63 261.09,106.21 261.35,106.19 261.60,106.33 261.85,106.33 262.10,106.52 262.35,106.78 262.60,106.97 262.86,107.21 263.11,107.55 263.36,107.69 263.61,108.01 263.86,108.11 264.12,108.01 264.37,108.18 264.62,108.41 264.87,108.21 265.12,108.19 265.37,108.35 265.63,108.35 265.88,108.39 266.13,108.33 266.38,108.15 266.63,108.06 266.88,107.88 267.14,107.80 267.39,107.49 267.64,106.91 267.89,106.34 268.14,104.90 268.39,102.78 268.65,99.27 268.90,94.44 269.15,88.01 269.40,81.65 269.65,76.93 269.90,75.69 270.16,78.84 270.41,84.56 270.66,91.08 270.91,96.66 271.16,100.66 271.42,103.25 271.67,104.31 271.92,104.52 272.17,103.57 272.42,102.14 272.67,99.94 272.93,97.54 273.18,94.93 273.43,93.18 273.68,93.01 273.93,94.43 274.18,96.81 274.44,99.58 274.69,102.13 274.94,104.25 275.19,105.69 275.44,106.63 275.69,107.21 275.95,107.55 276.20,107.77 276.45,107.93 276.70,108.10 276.95,107.94 277.20,107.98 277.46,107.92 277.71,107.93 277.96,107.73 278.21,107.77 278.46,107.66 278.72,107.40 278.97,106.75 279.22,105.85 279.47,104.53 279.72,102.08 279.97,98.17 280.23,93.05 280.48,87.24 280.73,81.32 280.98,77.39 281.23,76.94 281.48,80.26 281.74,85.45 281.99,91.26 282.24,96.01 282.49,99.37 282.74,100.52 282.99,100.41 283.25,98.67 283.50,96.26 283.75,93.88 284.00,92.83 284.25,93.14 284.51,95.43 284.76,98.46 285.01,101.34 285.26,103.61 285.51,105.42 285.76,106.65 286.02,107.49 286.27,107.72 286.52,108.20 286.77,108.30 287.02,108.27 287.27,108.37 287.53,108.23 287.78,107.92 288.03,107.71 288.28,107.19 288.53,106.81 288.78,106.44 289.04,105.80 289.29,105.61 289.54,105.52 289.79,105.79 290.04,105.87 290.29,106.07 290.55,105.69 290.80,105.13 291.05,104.43 291.30,103.47 291.55,102.78 291.81,102.43 292.06,102.32 292.31,102.78 292.56,103.49 292.81,104.55 293.06,105.38 293.32,105.83 293.57,105.92 293.82,105.73 294.07,104.82 294.32,102.83 294.57,99.86 294.83,96.27 295.08,92.86 295.33,89.89 295.58,89.35 295.83,91.04 296.08,94.24 296.34,98.14 296.59,101.73 296.84,104.46 297.09,106.04 297.34,107.19 297.60,107.94 297.85,108.27 298.10,108.77 298.35,108.67 298.60,108.87 298.85,109.10 299.11,109.06 299.36,109.04 299.61,109.04 299.86,109.13 300.11,109.18 300.36,109.37 300.62,109.26 300.87,109.30 301.12,109.20 301.37,109.21 301.62,109.29 301.87,108.90 302.13,108.86 302.38,108.44 302.63,108.11 302.88,107.82 303.13,107.42 303.38,107.36 303.64,107.48 303.89,107.79 304.14,108.05 304.39,108.53 304.64,108.84 304.90,109.08 305.15,109.18 305.40,109.29 305.65,109.36 305.90,109.08 306.15,108.93 306.41,108.85 306.66,108.62 306.91,108.45 307.16,108.08 307.41,108.07 307.66,108.39 307.92,108.52 308.17,108.88 308.42,109.08 308.67,109.22 308.92,109.51 309.17,109.54 309.43,109.65 309.68,109.81 309.93,109.71 310.18,109.85 310.43,109.70 310.69,109.68 310.94,109.76 311.19,109.74 311.44,109.88 311.69,109.70 311.94,109.89 312.20,109.75 312.45,109.82 312.70,109.77 312.95,109.75 313.20,109.76 313.45,110.02 313.71,109.76 313.96,110.02 314.21,109.88 314.46,110.02 314.71,109.81 314.96,109.94 315.22,109.97 315.47,109.87 315.72,109.97 315.97,110.06 316.22,109.92 316.48,109.81 316.73,109.99 316.98,110.05 317.23,109.95 317.48,110.07 317.73,109.94 317.99,109.97 318.24,109.97 318.49,109.87 318.74,109.87 318.99,110.05 319.24,110.13 319.50,109.92 319.75,110.14 320.00,109.98 320.25,110.01 320.50,109.90 320.75,109.90 321.01,110.07 321.26,110.17 321.51,110.10 321.76,109.95 322.01,110.12 322.26,109.96 322.52,110.07 322.77,110.16 323.02,110.06 323.27,110.04 323.52,110.05 323.78,110.04 324.03,109.96 324.28,110.18 324.53,110.09 324.78,110.03 325.03,110.07 325.29,110.00 325.54,110.13 325.79,110.17 326.04,110.19 326.29,110.14 326.54,110.31 326.80,110.06 327.05,110.08 327.30,110.19 327.55,110.15 327.80,110.13 328.05,110.26 328.31,110.20 328.56,110.22 328.81,110.26 329.06,110.19 329.31,110.22 329.56,110.37 329.82,110.12 330.07,110.22 330.32,110.27 330.57,110.32 330.82,110.12 331.08,110.13 331.33,110.18 331.58,110.31 331.83,110.18 332.08,110.13 332.33,110.25 332.59,110.17 332.84,110.34 333.09,110.42 333.34,110.37 333.59,110.32 333.84,110.27 334.10,110.16 334.35,110.29 334.60,110.32 334.85,110.26 335.10,110.30 335.35,110.46 335.61,110.30 335.86,110.27 336.11,110.33 336.36,110.48 336.61,110.22 336.87,110.35 337.12,110.51 337.37,110.38 337.62,110.32 337.87,110.33 338.12,110.44 338.38,110.28 338.63,110.53 338.88,110.45 339.13,110.52 339.38,110.30 339.63,110.27 339.89,110.36 340.14,110.41 340.39,110.43 340.64,110.47 340.89,110.30 341.14,110.57 341.40,110.34 341.65,110.35 341.90,110.34 342.15,110.42 342.40,110.36 342.65,110.53 342.91,110.43 343.16,110.37 343.41,110.44 343.66,110.58 343.91,110.51 344.17,110.37 344.42,110.53 344.67,110.50 344.92,110.52 345.17,110.59 345.42,110.41 345.68,110.58 345.93,110.61 346.18,110.66 346.43,110.50 346.68,110.46 346.93,110.61 347.19,110.70 347.44,110.70 347.69,110.59 347.94,110.51 348.19,110.70 348.44,110.47 348.70,110.62 348.95,110.69 349.20,110.61" fill="none" stroke="#f0304a" stroke-width="1.15" stroke-linejoin="round"/>
<line x1="262.6" y1="36" x2="269.6" y2="75" stroke="#4fe03a" stroke-width="1" stroke-dasharray="3 2"/>
<line x1="274.6" y1="30" x2="280.8" y2="76" stroke="#4fe03a" stroke-width="1" stroke-dasharray="3 2"/>
<line x1="288.6" y1="47" x2="294.8" y2="88" stroke="#4fe03a" stroke-width="1" stroke-dasharray="3 2"/>
<rect x="218.3" y="15.3" width="130.89999999999998" height="99.0" fill="none" stroke="#3c3c3c" stroke-width="0.9"/>
<line x1="218.3" y1="114.3" x2="218.3" y2="112.8" stroke="#444" stroke-width="0.5"/>
<line x1="218.3" y1="15.3" x2="218.3" y2="16.8" stroke="#444" stroke-width="0.5"/>
<text x="218.3" y="120.6" font-size="4.7" fill="#222" text-anchor="middle" font-family="Liberation Sans, sans-serif" font-weight="bold" >520</text>
<line x1="251.0" y1="114.3" x2="251.0" y2="112.8" stroke="#444" stroke-width="0.5"/>
<line x1="251.0" y1="15.3" x2="251.0" y2="16.8" stroke="#444" stroke-width="0.5"/>
<text x="251.0" y="120.6" font-size="4.7" fill="#222" text-anchor="middle" font-family="Liberation Sans, sans-serif" font-weight="bold" >530</text>
<line x1="283.8" y1="114.3" x2="283.8" y2="112.8" stroke="#444" stroke-width="0.5"/>
<line x1="283.8" y1="15.3" x2="283.8" y2="16.8" stroke="#444" stroke-width="0.5"/>
<text x="283.8" y="120.6" font-size="4.7" fill="#222" text-anchor="middle" font-family="Liberation Sans, sans-serif" font-weight="bold" >540</text>
<line x1="316.5" y1="114.3" x2="316.5" y2="112.8" stroke="#444" stroke-width="0.5"/>
<line x1="316.5" y1="15.3" x2="316.5" y2="16.8" stroke="#444" stroke-width="0.5"/>
<text x="316.5" y="120.6" font-size="4.7" fill="#222" text-anchor="middle" font-family="Liberation Sans, sans-serif" font-weight="bold" >550</text>
<line x1="349.2" y1="114.3" x2="349.2" y2="112.8" stroke="#444" stroke-width="0.5"/>
<line x1="349.2" y1="15.3" x2="349.2" y2="16.8" stroke="#444" stroke-width="0.5"/>
<text x="349.2" y="120.6" font-size="4.7" fill="#222" text-anchor="middle" font-family="Liberation Sans, sans-serif" font-weight="bold" >560</text>
<line x1="218.3" y1="31.4" x2="219.8" y2="31.4" stroke="#444" stroke-width="0.5"/>
<line x1="349.2" y1="31.4" x2="347.7" y2="31.4" stroke="#444" stroke-width="0.5"/>
<text x="216.5" y="33.199999999999996" font-size="5.2" fill="#222" text-anchor="end" font-family="Liberation Sans, sans-serif" textLength="13.4" lengthAdjust="spacingAndGlyphs" stroke="#222" stroke-width="0.12" >20,000</text>
<line x1="218.3" y1="51.6" x2="219.8" y2="51.6" stroke="#444" stroke-width="0.5"/>
<line x1="349.2" y1="51.6" x2="347.7" y2="51.6" stroke="#444" stroke-width="0.5"/>
<text x="216.5" y="53.4" font-size="5.2" fill="#222" text-anchor="end" font-family="Liberation Sans, sans-serif" textLength="13.4" lengthAdjust="spacingAndGlyphs" stroke="#222" stroke-width="0.12" >15,000</text>
<line x1="218.3" y1="73.3" x2="219.8" y2="73.3" stroke="#444" stroke-width="0.5"/>
<line x1="349.2" y1="73.3" x2="347.7" y2="73.3" stroke="#444" stroke-width="0.5"/>
<text x="216.5" y="75.1" font-size="5.2" fill="#222" text-anchor="end" font-family="Liberation Sans, sans-serif" textLength="13.4" lengthAdjust="spacingAndGlyphs" stroke="#222" stroke-width="0.12" >10,000</text>
<line x1="218.3" y1="93.6" x2="219.8" y2="93.6" stroke="#444" stroke-width="0.5"/>
<line x1="349.2" y1="93.6" x2="347.7" y2="93.6" stroke="#444" stroke-width="0.5"/>
<text x="216.5" y="95.39999999999999" font-size="5.2" fill="#222" text-anchor="end" font-family="Liberation Sans, sans-serif" textLength="8.8" lengthAdjust="spacingAndGlyphs" stroke="#222" stroke-width="0.12" >5000</text>
<text x="283.2" y="126.4" font-size="5.6" fill="#222" text-anchor="middle" font-family="Liberation Sans, sans-serif" font-weight="bold" >Wavelength (nm)</text>
<text x="0" y="0" font-size="5.8" fill="#222" text-anchor="middle" font-family="Liberation Sans, sans-serif" font-weight="bold" transform="translate(201,64) rotate(-90)">Intensity (a.u.)</text>
<rect x="317.3" y="15.3" width="31.9" height="19.3" fill="#fff" stroke="#444" stroke-width="0.7"/>
<text x="319.5" y="21.5" font-size="4.7" fill="#222" text-anchor="start" font-family="Liberation Sans, sans-serif" textLength="28.4" lengthAdjust="spacingAndGlyphs" stroke="#222" stroke-width="0.15" >10<tspan font-size="3" dy="-1.7">-4</tspan><tspan dy="1.7"> g/ml BSA</tspan></text>
<line x1="319" y1="25.3" x2="329.6" y2="25.3" stroke="#222" stroke-width="0.8"/>
<text x="332.1" y="27" font-size="4.7" fill="#222" text-anchor="start" font-family="Liberation Sans, sans-serif" stroke="#222" stroke-width="0.18" >0 s</text>
<line x1="319" y1="31.4" x2="329.6" y2="31.4" stroke="#f0283a" stroke-width="1"/>
<text x="332.1" y="33.1" font-size="4.7" fill="#222" text-anchor="start" font-family="Liberation Sans, sans-serif" stroke="#222" stroke-width="0.18" >40 s</text>
<rect x="319.7" y="86.5" width="26.5" height="25.7" fill="#050505"/>
<g filter="url(#b05)"><ellipse cx="333.4" cy="99.4" rx="5.6" ry="6" fill="#e8d020"/><ellipse cx="331.3" cy="99.6" rx="3.2" ry="5" fill="#48d838"/><ellipse cx="336.6" cy="99" rx="1.8" ry="3.4" fill="#f07020"/><circle cx="337" cy="102.6" r="1.2" fill="#3040e0"/><rect x="327" y="98.7" width="12.5" height="1.5" fill="#050505"/><circle cx="323.5" cy="109" r="0.6" fill="#40d040"/></g>
</g><g id="panel-b">
<text x="5.7" y="173.2" font-size="16.4" fill="#111" text-anchor="start" font-family="Liberation Serif, serif" >(b)</text>
<rect x="37" y="164.6" width="48.5" height="34.9" fill="#aaafc7"/>
<rect x="37" y="164.6" width="48.5" height="34.9" fill="none" stroke="#c4c8e2" stroke-width="0.5"/>
<svg x="37" y="164.6" width="48.5" height="34.9" viewBox="37 164.6 48.5 34.9"><ellipse cx="48" cy="194" rx="16" ry="8" fill="#c6cade" opacity="0.8" filter="url(#b3)"/><ellipse cx="70" cy="170" rx="16" ry="6" fill="#a2a6c2" opacity="0.6" filter="url(#b3)"/></svg>
<path d="M37,182.2 L61.5,181.2 L61.5,182.4 L37,185.4z" fill="#8e92b8" filter="url(#b05)"/>
<rect x="66" y="181.2" width="19.5" height="0.7" fill="#6f7296" opacity="0.9"/>
<circle cx="64" cy="181.6" r="2.3" fill="#b48e3c" stroke="#5e4c20" stroke-width="0.7"/>
<rect x="76.6" y="196.9" width="7.4" height="1.4" fill="#fff"/>
<polygon points="37.6,235 153.6,216 183.8,249.4 68,272" fill="#f6f7f4" stroke="#c8ccc8" stroke-width="0.5"/>
<g clip-path="url(#slideclip)">
<ellipse cx="84" cy="252" rx="20" ry="15" fill="#86e268" opacity="0.72" filter="url(#b3)"/>
<ellipse cx="92" cy="262" rx="16" ry="8" fill="#8ae46c" opacity="0.6" filter="url(#b3)"/>
<ellipse cx="142" cy="239" rx="19" ry="16" fill="#ee929a" opacity="0.66" filter="url(#b3)"/>
<ellipse cx="128" cy="258" rx="20" ry="7" fill="#ee9ea6" opacity="0.6" filter="url(#b3)"/>
</g>
<polygon points="37.6,235 68,272 68,274.2 37.6,237.2" fill="#8d938d"/>
<polygon points="68,272 183.8,249.4 183.8,251.4 68,274.2" fill="#dfe2df"/>
<polygon points="167,252.7 183.8,249.4 183.8,251.6 167,254.9" fill="#454545"/>
<path d="M84.5,243 C86,226 98,219 110,219 C124,219 131,228 132,241 C132,249 122,255 108,255 C94,255 84.5,250 84.5,243z" fill="#eef0f0" opacity="0.93" stroke="#cdd2d2" stroke-width="0.5"/>
<ellipse cx="108" cy="245" rx="22" ry="9" fill="#f7f8f8" opacity="0.8" filter="url(#b1)"/>
<path d="M88.5,229.5 Q100,224 114,225.5 L129,223.6 L129.3,225 L114,228 Q100,227 89,231z" fill="#3a3c3e" opacity="0.9" filter="url(#b03)"/>
<polygon points="114,228.2 156,222.8 156.2,224.4 114,230.2" fill="#c4c8c8" stroke="#858a8a" stroke-width="0.4"/>
<polygon points="69,238 101,234.4 101,235.6 69,246" fill="#eef0f0" stroke="#6a6e6e" stroke-width="0.5"/>
<polygon points="86,236.2 101,234.5 101,235.6 86,240.8" fill="#d0d4d4" stroke="#444" stroke-width="0.4"/>
<circle cx="69.4" cy="238" r="0.9" fill="#111"/><circle cx="69.4" cy="246" r="0.9" fill="#111"/>
<path d="M99,235.2 l4,-1.6 l0,3z" fill="#4fe03a" filter="url(#b03)"/>
<circle cx="109" cy="234" r="6.4" fill="url(#ggold)" stroke="#8a6428" stroke-width="0.5"/>
<circle cx="109" cy="234" r="3.6" fill="none" stroke="#8a5a1a" stroke-width="0.6" stroke-dasharray="1.4 0.9" opacity="0.85"/>
<circle cx="109" cy="234" r="1.3" fill="none" stroke="#8a5a1a" stroke-width="0.5" opacity="0.85"/>
<path d="M103.8,253.6 a5.2,5 0 0 1 10.4,0z" fill="#d9aa58" opacity="0.95"/>
<path d="M106.4,253 a2.6,2.6 0 0 1 5.2,0" fill="none" stroke="#8a6428" stroke-width="0.5" opacity="0.8"/>
<line x1="37" y1="199.5" x2="97" y2="232" stroke="#c8343e" stroke-width="0.7"/>
<line x1="85.5" y1="199.5" x2="105" y2="230" stroke="#c8343e" stroke-width="0.7"/>
<line x1="138.6" y1="207.4" x2="113" y2="230" stroke="#c8343e" stroke-width="0.7"/>
<path d="M139.4,206.6 l-3.2,0.9 l1.9,2.1z" fill="#cc3a44"/>
<g>
<path d="M96,186.5 h23.4 v17 l-1,1.2 v3 l-2.4,1.6 v3.4 a8.3,2 0 0 1 -16.6,0 v-3.4 l-2.4,-1.6 v-3 l-1,-1.2z" fill="url(#gmetal)"/>
<ellipse cx="107.7" cy="186.5" rx="11.7" ry="3.4" fill="#b9b9b9" stroke="#666" stroke-width="0.4"/>
<ellipse cx="107.7" cy="186.9" rx="9.4" ry="2.4" fill="#303030"/>
<path d="M98.5,187.5 a9.4,2.4 0 0 0 18.4,0 a9.4,1.4 0 0 1 -18.4,0z" fill="#8a8a8a"/>
<rect x="96" y="203.2" width="23.4" height="0.7" fill="#444" opacity="0.7"/>
<rect x="99.4" y="208.6" width="16.6" height="0.6" fill="#555" opacity="0.7"/>
</g>
<text x="107.8" y="198.6" font-size="5.4" fill="#0a0a0a" text-anchor="middle" font-family="Liberation Sans, sans-serif" stroke="#0a0a0a" stroke-width="0.15" >Objective</text>
<rect x="138" y="159" width="48.4" height="48.6" fill="#dcebf8"/>
<ellipse cx="162" cy="183" rx="24" ry="24" fill="#f2f8fd" opacity="0.8" filter="url(#b3)"/>
<circle cx="161.6" cy="182.4" r="21.5" fill="url(#ggold)"/>
<circle cx="161.6" cy="182.4" r="21.1" fill="none" stroke="#9a7028" stroke-width="0.7" opacity="0.6"/>
<ellipse cx="149.9" cy="198.2" rx="2.0" ry="0.83" fill="#3aa59c" opacity="0.92" transform="rotate(-141 149.9 198.2)"/>
<ellipse cx="144.2" cy="190.5" rx="2.0" ry="0.83" fill="#3aa59c" opacity="0.92" transform="rotate(-113 144.2 190.5)"/>
<ellipse cx="142.6" cy="181.7" rx="2.1" ry="0.83" fill="#3aa59c" opacity="0.92" transform="rotate(-88 142.6 181.7)"/>
<ellipse cx="145.1" cy="172.4" rx="2.0" ry="0.83" fill="#3aa59c" opacity="0.92" transform="rotate(-61 145.1 172.4)"/>
<ellipse cx="151.5" cy="165.4" rx="2.0" ry="0.83" fill="#3aa59c" opacity="0.92" transform="rotate(-33 151.5 165.4)"/>
<ellipse cx="155.1" cy="200.4" rx="2.5" ry="1.00" fill="#3aa59c" opacity="0.92" transform="rotate(-147 155.1 200.4)"/>
<ellipse cx="149.6" cy="194.2" rx="2.8" ry="1.00" fill="#3aa59c" opacity="0.92" transform="rotate(-118 149.6 194.2)"/>
<ellipse cx="147.0" cy="185.9" rx="3.1" ry="1.00" fill="#3aa59c" opacity="0.92" transform="rotate(-97 147.0 185.9)"/>
<ellipse cx="147.5" cy="176.2" rx="3.0" ry="1.00" fill="#3aa59c" opacity="0.92" transform="rotate(-76 147.5 176.2)"/>
<ellipse cx="151.3" cy="168.0" rx="2.7" ry="1.00" fill="#3aa59c" opacity="0.92" transform="rotate(-52 151.3 168.0)"/>
<ellipse cx="156.6" cy="198.2" rx="3.2" ry="1.11" fill="#3aa59c" opacity="0.92" transform="rotate(-118 156.6 198.2)"/>
<ellipse cx="154.2" cy="190.5" rx="3.9" ry="1.11" fill="#3aa59c" opacity="0.92" transform="rotate(-100 154.2 190.5)"/>
<ellipse cx="153.5" cy="181.7" rx="4.1" ry="1.11" fill="#3aa59c" opacity="0.92" transform="rotate(-89 153.5 181.7)"/>
<ellipse cx="154.6" cy="172.4" rx="3.8" ry="1.11" fill="#3aa59c" opacity="0.92" transform="rotate(-77 154.6 172.4)"/>
<ellipse cx="157.3" cy="165.4" rx="3.1" ry="1.11" fill="#3aa59c" opacity="0.92" transform="rotate(-57 157.3 165.4)"/>
<ellipse cx="161.6" cy="200.4" rx="3.2" ry="1.15" fill="#3aa59c" opacity="0.92" transform="rotate(-90 161.6 200.4)"/>
<ellipse cx="161.6" cy="194.2" rx="4.0" ry="1.15" fill="#3aa59c" opacity="0.92" transform="rotate(-90 161.6 194.2)"/>
<ellipse cx="161.6" cy="185.9" rx="4.5" ry="1.15" fill="#3aa59c" opacity="0.92" transform="rotate(-90 161.6 185.9)"/>
<ellipse cx="161.6" cy="176.2" rx="4.4" ry="1.15" fill="#3aa59c" opacity="0.92" transform="rotate(-90 161.6 176.2)"/>
<ellipse cx="161.6" cy="168.0" rx="3.7" ry="1.15" fill="#3aa59c" opacity="0.92" transform="rotate(-90 161.6 168.0)"/>
<ellipse cx="166.6" cy="198.2" rx="3.2" ry="1.11" fill="#3aa59c" opacity="0.92" transform="rotate(-62 166.6 198.2)"/>
<ellipse cx="169.0" cy="190.5" rx="3.9" ry="1.11" fill="#3aa59c" opacity="0.92" transform="rotate(-80 169.0 190.5)"/>
<ellipse cx="169.7" cy="181.7" rx="4.1" ry="1.11" fill="#3aa59c" opacity="0.92" transform="rotate(-91 169.7 181.7)"/>
<ellipse cx="168.6" cy="172.4" rx="3.8" ry="1.11" fill="#3aa59c" opacity="0.92" transform="rotate(-103 168.6 172.4)"/>
<ellipse cx="165.9" cy="165.4" rx="3.1" ry="1.11" fill="#3aa59c" opacity="0.92" transform="rotate(-123 165.9 165.4)"/>
<ellipse cx="168.1" cy="200.4" rx="2.5" ry="1.00" fill="#3aa59c" opacity="0.92" transform="rotate(-33 168.1 200.4)"/>
<ellipse cx="173.6" cy="194.2" rx="2.8" ry="1.00" fill="#3aa59c" opacity="0.92" transform="rotate(-62 173.6 194.2)"/>
<ellipse cx="176.2" cy="185.9" rx="3.1" ry="1.00" fill="#3aa59c" opacity="0.92" transform="rotate(-83 176.2 185.9)"/>
<ellipse cx="175.7" cy="176.2" rx="3.0" ry="1.00" fill="#3aa59c" opacity="0.92" transform="rotate(-104 175.7 176.2)"/>
<ellipse cx="171.9" cy="168.0" rx="2.7" ry="1.00" fill="#3aa59c" opacity="0.92" transform="rotate(-128 171.9 168.0)"/>
<ellipse cx="173.3" cy="198.2" rx="2.0" ry="0.83" fill="#3aa59c" opacity="0.92" transform="rotate(-39 173.3 198.2)"/>
<ellipse cx="179.0" cy="190.5" rx="2.0" ry="0.83" fill="#3aa59c" opacity="0.92" transform="rotate(-67 179.0 190.5)"/>
<ellipse cx="180.6" cy="181.7" rx="2.1" ry="0.83" fill="#3aa59c" opacity="0.92" transform="rotate(-92 180.6 181.7)"/>
<ellipse cx="178.1" cy="172.4" rx="2.0" ry="0.83" fill="#3aa59c" opacity="0.92" transform="rotate(-119 178.1 172.4)"/>
<ellipse cx="171.7" cy="165.4" rx="2.0" ry="0.83" fill="#3aa59c" opacity="0.92" transform="rotate(-147 171.7 165.4)"/>
<circle cx="151.6" cy="171.4" r="1.3" fill="#f7d21a"/>
<path d="M152.1,172.70000000000002 l1.1,1 l-1.2,1.1 l1.3,1.1 l-1,1.1 l1,1" fill="none" stroke="#2a2a2a" stroke-width="0.45"/>
<circle cx="158.6" cy="172.4" r="1.3" fill="#f7d21a"/>
<path d="M159.1,173.70000000000002 l1.1,1 l-1.2,1.1 l1.3,1.1 l-1,1.1 l1,1" fill="none" stroke="#2a2a2a" stroke-width="0.45"/>
<circle cx="166.6" cy="172.4" r="1.3" fill="#f7d21a"/>
<path d="M167.1,173.70000000000002 l1.1,1 l-1.2,1.1 l1.3,1.1 l-1,1.1 l1,1" fill="none" stroke="#2a2a2a" stroke-width="0.45"/>
<circle cx="171.6" cy="178.4" r="1.3" fill="#f7d21a"/>
<path d="M172.1,179.70000000000002 l1.1,1 l-1.2,1.1 l1.3,1.1 l-1,1.1 l1,1" fill="none" stroke="#2a2a2a" stroke-width="0.45"/>
<circle cx="162.6" cy="181.4" r="1.3" fill="#f7d21a"/>
<path d="M163.1,182.70000000000002 l1.1,1 l-1.2,1.1 l1.3,1.1 l-1,1.1 l1,1" fill="none" stroke="#2a2a2a" stroke-width="0.45"/>
<circle cx="173.6" cy="189.4" r="1.3" fill="#f7d21a"/>
<path d="M174.1,190.70000000000002 l1.1,1 l-1.2,1.1 l1.3,1.1 l-1,1.1 l1,1" fill="none" stroke="#2a2a2a" stroke-width="0.45"/>
<circle cx="164.6" cy="191.4" r="1.3" fill="#f7d21a"/>
<path d="M165.1,192.70000000000002 l1.1,1 l-1.2,1.1 l1.3,1.1 l-1,1.1 l1,1" fill="none" stroke="#2a2a2a" stroke-width="0.45"/>
<text x="143" y="213.5" font-size="5.4" fill="#1a1a1a" text-anchor="start" font-family="Liberation Sans, sans-serif" stroke="#1a1a1a" stroke-width="0.1" >LC <tspan font-style="italic">microdroplet</tspan></text>
<text x="142.4" y="232.8" font-size="5.05" fill="#1a1a1a" text-anchor="start" font-family="Liberation Sans, sans-serif" stroke="#1a1a1a" stroke-width="0.12" >Microtube</text>
<text x="134" y="249.5" font-size="5.4" fill="#1a1a1a" text-anchor="start" font-family="Liberation Sans, sans-serif" stroke="#1a1a1a" stroke-width="0.12" >DI Water</text>
<text x="45" y="240.5" font-size="5.4" fill="#111" text-anchor="start" font-family="Liberation Sans, sans-serif" stroke="#111" stroke-width="0.12" >532 nm</text>
<text x="63" y="254" font-size="5.4" fill="#111" text-anchor="start" font-family="Liberation Sans, sans-serif" stroke="#111" stroke-width="0.12" >Fiber tip</text>
<path d="M57,244.6 q1,-1.3 2,0 t2,0 t2,0 t2,0" fill="none" stroke="#4fe03a" stroke-width="0.8"/>
<path d="M67.6,244.5 l-2.4,-1.4 v2.8z" fill="#4fe03a"/>
</g>
<g id="micro-b">
<rect x="202.3" y="146.2" width="69.1" height="57.4" fill="#200a47"/>
<path d="M202.3,176.5 L226,173.6 L226,175 L202.3,180z" fill="#1a0c40" opacity="0.55" filter="url(#b05)"/>
<path d="M204.3,172.6 L225,173 L225,173.8 L204.3,173.6z" fill="#1a0c40" opacity="0.5" filter="url(#b05)"/>
<circle cx="235" cy="174" r="9.8" fill="#c8401a" opacity="0.5" filter="url(#b1)"/>
<circle cx="235" cy="174" r="8.5" fill="url(#gor1)"/>
<rect x="249" y="146.4" width="22.4" height="21" fill="#bd640c"/>
<circle cx="260.2" cy="156.6" r="7.3" fill="#c2660e" stroke="#6a3e0a" stroke-width="1.8" filter="url(#b07)"/>
<rect x="277" y="146.2" width="69.0" height="57.4" fill="#230a4c"/>
<path d="M277,176.5 L300.4,173.6 L300.4,175 L277,180z" fill="#1a0c40" opacity="0.55" filter="url(#b05)"/>
<path d="M279,172.6 L299.4,173 L299.4,173.8 L279,173.6z" fill="#1a0c40" opacity="0.5" filter="url(#b05)"/>
<circle cx="309.4" cy="174" r="9.8" fill="#c8401a" opacity="0.5" filter="url(#b1)"/>
<circle cx="309.4" cy="174" r="8.5" fill="url(#gor2)"/>
<rect x="323.8" y="146.4" width="22.2" height="21" fill="#bd640c"/>
<circle cx="334.9" cy="156.6" r="7.9" fill="#c2660e" stroke="#6a3e0a" stroke-width="1.8" filter="url(#b07)"/>
<g filter="url(#b05)" opacity="0.75"><path d="M235,174 L241.5,169 L243,172z" fill="#e8701a"/><path d="M235,174 L238,182 L234,182.4z" fill="#f0801a"/><path d="M235,174 L227,173 L227.6,170z" fill="#f08a1a"/></g>
<ellipse cx="260" cy="156.6" rx="1" ry="1.8" fill="#6a4a14" opacity="0.8" filter="url(#b03)"/>
<rect x="254.6" y="199.9" width="14.4" height="1.9" fill="#fff"/>
<rect x="329.6" y="199.9" width="14" height="1.9" fill="#fff"/>
<path d="M234.2,205.2 h3.8 v3.6 h1.7 l-3.6,4.2 l-3.6,-4.2 h1.7z" fill="#111"/>
<path d="M308.1,205.2 h3.8 v3.6 h1.7 l-3.6,4.2 l-3.6,-4.2 h1.7z" fill="#f0182a"/>
</g>
<g id="spectrum-b">
<polyline points="201.60,245.97 201.74,245.78 201.89,245.90 202.03,246.51 202.18,246.44 202.32,246.68 202.47,247.32 202.61,247.31 202.76,247.73 202.90,247.75 203.05,248.01 203.19,247.89 203.34,248.22 203.48,248.38 203.63,248.21 203.77,248.29 203.92,248.21 204.06,247.84 204.21,248.13 204.35,247.99 204.50,247.81 204.64,247.66 204.79,248.08 204.93,247.90 205.08,248.06 205.22,248.19 205.36,248.15 205.51,248.29 205.65,248.05 205.80,248.25 205.94,248.04 206.09,248.22 206.23,248.10 206.38,247.58 206.52,247.46 206.67,247.34 206.81,247.55 206.96,247.13 207.10,247.09 207.25,246.83 207.39,246.87 207.54,246.79 207.68,246.79 207.83,246.98 207.97,247.08 208.12,247.37 208.26,247.41 208.41,247.69 208.55,247.80 208.70,247.99 208.84,247.93 208.98,247.73 209.13,248.08 209.27,248.10 209.42,247.98 209.56,247.69 209.71,247.60 209.85,247.17 210.00,247.29 210.14,246.98 210.29,246.66 210.43,246.40 210.58,246.67 210.72,246.65 210.87,246.15 211.01,246.48 211.16,246.29 211.30,246.18 211.45,246.29 211.59,246.56 211.74,246.64 211.88,246.24 212.03,246.52 212.17,246.21 212.32,246.51 212.46,246.26 212.60,246.47 212.75,246.46 212.89,246.18 213.04,246.40 213.18,246.06 213.33,245.99 213.47,246.34 213.62,246.18 213.76,246.43 213.91,246.75 214.05,247.08 214.20,247.11 214.34,247.30 214.49,247.96 214.63,247.90 214.78,248.41 214.92,248.52 215.07,248.36 215.21,248.44 215.36,248.45 215.50,248.46 215.65,248.33 215.79,248.19 215.94,248.07 216.08,248.09 216.22,247.73 216.37,247.57 216.51,247.61 216.66,247.31 216.80,247.31 216.95,247.64 217.09,247.44 217.24,247.49 217.38,247.28 217.53,247.53 217.67,247.66 217.82,247.41 217.96,247.72 218.11,247.71 218.25,247.38 218.40,247.60 218.54,247.44 218.69,247.45 218.83,247.19 218.98,247.28 219.12,247.22 219.27,246.82 219.41,246.82 219.56,247.15 219.70,247.34 219.84,247.07 219.99,247.27 220.13,247.45 220.28,247.43 220.42,247.56 220.57,247.62 220.71,247.70 220.86,247.82 221.00,247.64 221.15,247.59 221.29,247.66 221.44,247.11 221.58,247.18 221.73,247.04 221.87,246.59 222.02,246.31 222.16,246.39 222.31,245.92 222.45,245.75 222.60,245.77 222.74,245.85 222.89,245.55 223.03,245.69 223.18,245.77 223.32,246.12 223.46,246.04 223.61,246.37 223.75,246.14 223.90,246.33 224.04,246.57 224.19,246.76 224.33,246.59 224.48,246.50 224.62,246.47 224.77,246.68 224.91,246.53 225.06,246.87 225.20,246.93 225.35,246.68 225.49,246.82 225.64,247.22 225.78,247.29 225.93,247.55 226.07,247.51 226.22,247.59 226.36,247.85 226.51,248.25 226.65,248.12 226.80,248.24 226.94,248.31 227.08,248.29 227.23,248.22 227.37,248.37 227.52,247.84 227.66,247.59 227.81,247.87 227.95,247.65 228.10,247.53 228.24,247.11 228.39,247.25 228.53,247.16 228.68,246.77 228.82,247.05 228.97,247.14 229.11,247.14 229.26,247.17 229.40,247.17 229.55,247.31 229.69,247.36 229.84,247.37 229.98,247.68 230.13,247.56 230.27,247.81 230.42,247.39 230.56,247.75 230.70,247.55 230.85,247.56 230.99,247.43 231.14,247.31 231.28,247.03 231.43,246.64 231.57,246.90 231.72,246.51 231.86,246.47 232.01,246.54 232.15,246.36 232.30,246.17 232.44,246.30 232.59,245.99 232.73,245.73 232.88,245.57 233.02,245.79 233.17,245.54 233.31,245.64 233.46,245.37 233.60,245.24 233.75,245.35 233.89,245.42 234.04,245.04 234.18,245.30 234.32,245.34 234.47,245.29 234.61,245.35 234.76,245.03 234.90,245.47 235.05,245.75 235.19,245.53 235.34,245.85 235.48,246.06 235.63,246.40 235.77,246.53 235.92,246.71 236.06,246.98 236.21,246.67 236.35,246.73 236.50,246.76 236.64,246.70 236.79,246.58 236.93,246.90 237.08,246.69 237.22,246.13 237.37,246.16 237.51,245.89 237.66,245.73 237.80,245.63 237.94,245.70 238.09,245.67 238.23,245.63 238.38,245.70 238.52,245.98 238.67,246.10 238.81,246.54 238.96,246.81 239.10,246.78 239.25,246.71 239.39,246.79 239.54,246.86 239.68,246.92 239.83,246.92 239.97,246.63 240.12,246.76 240.26,246.62 240.41,246.50 240.55,246.48 240.70,246.60 240.84,246.79 240.99,246.77 241.13,247.05 241.28,247.08 241.42,247.10 241.56,247.35 241.71,247.50 241.85,247.19 242.00,247.30 242.14,247.16 242.29,247.15 242.43,246.86 242.58,246.19 242.72,246.01 242.87,245.47 243.01,244.72 243.16,244.38 243.30,243.85 243.45,243.96 243.59,243.81 243.74,244.00 243.88,244.14 244.03,244.35 244.17,244.70 244.32,244.92 244.46,244.98 244.61,245.46 244.75,245.34 244.90,245.52 245.04,245.88 245.18,245.51 245.33,245.47 245.47,245.39 245.62,245.67 245.76,245.20 245.91,245.02 246.05,245.35 246.20,244.95 246.34,245.31 246.49,245.26 246.63,245.42 246.78,245.59 246.92,245.53 247.07,245.77 247.21,245.50 247.36,245.94 247.50,245.83 247.65,245.87 247.79,245.41 247.94,245.49 248.08,245.25 248.23,244.43 248.37,244.15 248.52,243.88 248.66,243.71 248.80,243.25 248.95,243.22 249.09,243.41 249.24,243.87 249.38,244.30 249.53,244.53 249.67,244.93 249.82,245.34 249.96,245.69 250.11,246.06 250.25,246.18 250.40,246.62 250.54,247.04 250.69,246.88 250.83,247.13 250.98,246.86 251.12,247.11 251.27,247.08 251.41,246.96 251.56,246.77 251.70,246.63 251.85,246.59 251.99,246.59 252.14,246.09 252.28,245.94 252.42,246.14 252.57,246.08 252.71,245.71 252.86,245.46 253.00,245.33 253.15,244.72 253.29,244.36 253.44,243.86 253.58,243.56 253.73,242.94 253.87,242.48 254.02,242.43 254.16,242.45 254.31,242.20 254.45,242.64 254.60,242.82 254.74,243.40 254.89,243.62 255.03,243.78 255.18,244.04 255.32,244.18 255.47,244.59 255.61,244.70 255.76,244.72 255.90,244.92 256.04,244.99 256.19,245.30 256.33,245.05 256.48,245.53 256.62,245.30 256.77,245.37 256.91,245.28 257.06,245.41 257.20,245.30 257.35,245.02 257.49,244.78 257.64,244.63 257.78,244.36 257.93,243.72 258.07,243.38 258.22,242.89 258.36,241.95 258.51,241.05 258.65,240.21 258.80,239.60 258.94,238.77 259.09,238.25 259.23,237.78 259.38,237.40 259.52,237.68 259.66,238.37 259.81,239.24 259.95,240.52 260.10,241.62 260.24,242.60 260.39,243.11 260.53,244.10 260.68,244.35 260.82,244.79 260.97,245.21 261.11,245.06 261.26,245.18 261.40,245.63 261.55,245.41 261.69,245.50 261.84,245.68 261.98,245.79 262.13,245.53 262.27,245.74 262.42,245.81 262.56,245.81 262.71,245.56 262.85,245.52 263.00,245.35 263.14,244.54 263.28,243.88 263.43,242.71 263.57,241.59 263.72,240.37 263.86,238.49 264.01,237.16 264.15,235.43 264.30,233.42 264.44,232.55 264.59,231.48 264.73,231.55 264.88,232.10 265.02,233.02 265.17,234.74 265.31,236.46 265.46,238.27 265.60,239.62 265.75,241.28 265.89,242.54 266.04,243.30 266.18,243.87 266.33,244.07 266.47,244.47 266.62,244.47 266.76,244.62 266.90,244.50 267.05,244.30 267.19,243.96 267.34,244.05 267.48,243.92 267.63,243.57 267.77,243.82 267.92,243.57 268.06,243.12 268.21,243.26 268.35,242.46 268.50,241.98 268.64,241.36 268.79,240.23 268.93,238.86 269.08,237.29 269.22,235.35 269.37,233.29 269.51,231.25 269.66,229.42 269.80,228.39 269.95,227.73 270.09,227.74 270.24,228.74 270.38,230.08 270.52,231.96 270.67,234.13 270.81,236.49 270.96,238.06 271.10,240.06 271.25,241.45 271.39,242.94 271.54,243.70 271.68,244.40 271.83,244.93 271.97,245.31 272.12,245.58 272.26,245.42 272.41,245.62 272.55,245.14 272.70,245.06 272.84,244.78 272.99,244.57 273.13,244.66 273.28,244.35 273.42,243.74 273.57,243.31 273.71,242.86 273.86,242.28 274.00,241.36 274.14,240.11 274.29,238.55 274.43,236.60 274.58,234.79 274.72,232.65 274.87,230.85 275.01,229.18 275.16,227.83 275.30,227.42 275.45,228.08 275.59,228.84 275.74,230.90 275.88,232.92 276.03,235.00 276.17,236.71 276.32,238.62 276.46,240.22 276.61,241.57 276.75,242.82 276.90,243.51 277.04,243.94 277.19,244.67 277.33,244.78 277.48,245.02 277.62,245.15 277.76,244.77 277.91,245.05 278.05,244.81 278.20,244.47 278.34,244.15 278.49,243.70 278.63,243.05 278.78,242.58 278.92,241.56 279.07,240.83 279.21,239.73 279.36,238.21 279.50,236.59 279.65,234.86 279.79,232.68 279.94,230.04 280.08,228.11 280.23,225.99 280.37,224.15 280.52,223.48 280.66,223.52 280.81,224.47 280.95,226.48 281.10,228.94 281.24,231.10 281.38,233.82 281.53,236.00 281.67,237.73 281.82,239.79 281.96,241.05 282.11,242.30 282.25,243.04 282.40,243.69 282.54,243.98 282.69,244.59 282.83,244.94 282.98,245.13 283.12,245.10 283.27,245.38 283.41,245.32 283.56,245.14 283.70,245.04 283.85,244.89 283.99,244.66 284.14,244.21 284.28,243.78 284.43,243.07 284.57,241.97 284.72,240.65 284.86,239.28 285.00,237.42 285.15,235.67 285.29,233.94 285.44,231.97 285.58,230.36 285.73,229.71 285.87,229.29 286.02,229.55 286.16,230.71 286.31,232.47 286.45,234.48 286.60,236.35 286.74,238.21 286.89,240.09 287.03,241.88 287.18,242.78 287.32,243.86 287.47,244.39 287.61,244.83 287.76,245.07 287.90,245.32 288.05,245.24 288.19,245.15 288.34,245.15 288.48,245.12 288.62,245.23 288.77,244.95 288.91,244.86 289.06,244.99 289.20,244.84 289.35,244.80 289.49,244.20 289.64,243.99 289.78,243.46 289.93,242.59 290.07,242.21 290.22,240.82 290.36,239.61 290.51,238.56 290.65,237.15 290.80,236.21 290.94,235.14 291.09,234.45 291.23,234.30 291.38,235.03 291.52,235.63 291.67,237.03 291.81,238.17 291.96,239.77 292.10,240.77 292.24,241.95 292.39,243.01 292.53,244.16 292.68,244.76 292.82,245.15 292.97,245.39 293.11,245.91 293.26,246.18 293.40,246.02 293.55,245.70 293.69,245.63 293.84,245.56 293.98,245.49 294.13,245.31 294.27,245.21 294.42,245.40 294.56,245.41 294.71,244.93 294.85,245.15 295.00,244.67 295.14,244.51 295.29,244.13 295.43,243.59 295.58,242.46 295.72,241.80 295.86,241.08 296.01,240.36 296.15,239.11 296.30,238.58 296.44,238.51 296.59,238.15 296.73,238.65 296.88,239.29 297.02,240.32 297.17,241.40 297.31,242.01 297.46,243.24 297.60,244.11 297.75,244.95 297.89,245.48 298.04,246.24 298.18,246.41 298.33,246.79 298.47,246.95 298.62,247.39 298.76,247.32 298.91,247.21 299.05,247.08 299.20,247.21 299.34,246.96 299.48,246.78 299.63,246.35 299.77,246.11 299.92,245.63 300.06,245.60 300.21,244.93 300.35,244.83 300.50,244.63 300.64,244.24 300.79,243.58 300.93,243.26 301.08,243.15 301.22,242.65 301.37,242.39 301.51,242.07 301.66,241.65 301.80,241.82 301.95,241.84 302.09,241.89 302.24,242.25 302.38,242.50 302.53,243.09 302.67,243.77 302.82,243.72 302.96,244.30 303.10,244.39 303.25,244.66 303.39,245.22 303.54,245.27 303.68,245.42 303.83,245.71 303.97,246.18 304.12,246.36 304.26,246.25 304.41,246.50 304.55,246.98 304.70,246.66 304.84,246.83 304.99,246.71 305.13,246.80 305.28,246.56 305.42,246.46 305.57,246.11 305.71,245.70 305.86,245.43 306.00,245.12 306.15,245.24 306.29,244.64 306.44,244.39 306.58,244.70 306.72,244.22 306.87,244.54 307.01,244.20 307.16,244.56 307.30,244.70 307.45,245.32 307.59,245.57 307.74,245.93 307.88,246.30 308.03,246.63 308.17,246.58 308.32,246.88 308.46,246.91 308.61,246.81 308.75,247.22 308.90,247.12 309.04,247.25 309.19,246.97 309.33,247.17 309.48,247.18 309.62,247.38 309.77,247.12 309.91,247.32 310.06,247.44 310.20,247.28 310.34,247.52 310.49,247.58 310.63,247.35 310.78,247.33 310.92,247.12 311.07,246.68 311.21,246.46 311.36,246.46 311.50,245.78 311.65,245.47 311.79,244.95 311.94,244.70 312.08,244.40 312.23,244.60 312.37,244.39 312.52,244.46 312.66,244.60 312.81,244.57 312.95,244.94 313.10,244.99 313.24,245.18 313.39,245.69 313.53,245.89 313.68,246.10 313.82,246.01 313.96,246.26 314.11,246.13 314.25,246.45 314.40,246.41 314.54,246.06 314.69,246.35 314.83,245.94 314.98,245.87 315.12,246.17 315.27,245.98 315.41,246.13 315.56,246.25 315.70,246.04 315.85,246.49 315.99,246.36 316.14,246.54 316.28,246.58 316.43,246.85 316.57,246.88 316.72,246.66 316.86,246.53 317.01,246.56 317.15,246.53 317.30,246.25 317.44,246.16 317.58,246.35 317.73,246.21 317.87,246.27 318.02,246.23 318.16,246.18 318.31,245.97 318.45,245.96 318.60,246.18 318.74,246.43 318.89,246.67 319.03,246.91 319.18,247.04 319.32,247.51 319.47,247.42 319.61,247.67 319.76,248.01 319.90,248.05 320.05,247.82 320.19,247.78 320.34,248.01 320.48,247.52 320.63,247.48 320.77,247.56 320.92,247.44 321.06,247.15 321.20,246.99 321.35,246.99 321.49,247.22 321.64,247.03 321.78,247.26 321.93,247.15 322.07,247.23 322.22,246.73 322.36,246.77 322.51,246.62 322.65,246.74 322.80,246.57 322.94,246.28 323.09,246.35 323.23,245.94 323.38,245.85 323.52,245.62 323.67,245.72 323.81,245.38 323.96,245.19 324.10,245.02 324.25,245.19 324.39,245.32 324.54,245.43 324.68,245.67 324.82,245.78 324.97,245.68 325.11,245.82 325.26,246.31 325.40,246.50 325.55,246.50 325.69,246.76 325.84,246.69 325.98,246.57 326.13,246.49 326.27,246.36 326.42,246.58 326.56,246.60 326.71,246.50 326.85,246.17 327.00,246.17 327.14,246.23 327.29,246.13 327.43,246.02 327.58,245.94 327.72,246.04 327.87,245.94 328.01,246.02 328.16,246.36 328.30,246.60 328.44,246.45 328.59,246.43 328.73,246.43 328.88,246.48 329.02,246.64 329.17,246.43 329.31,246.63 329.46,246.18 329.60,246.22 329.75,246.30 329.89,246.25 330.04,246.51 330.18,246.57 330.33,246.74 330.47,246.73 330.62,246.62 330.76,247.10 330.91,247.31 331.05,247.49 331.20,247.59 331.34,247.98 331.49,248.21 331.63,247.89 331.78,248.21 331.92,248.03 332.06,248.03 332.21,248.10 332.35,247.96 332.50,247.61 332.64,247.18 332.79,247.33 332.93,246.76 333.08,246.68 333.22,246.74 333.37,246.36 333.51,246.24 333.66,246.52 333.80,246.48 333.95,246.16 334.09,246.19 334.24,246.14 334.38,246.06 334.53,246.10 334.67,246.43 334.82,245.92 334.96,245.92 335.11,245.81 335.25,245.64 335.40,245.76 335.54,245.77 335.68,245.73 335.83,245.56 335.97,245.63 336.12,245.23 336.26,245.42 336.41,245.84 336.55,245.52 336.70,245.77 336.84,246.04 336.99,246.10 337.13,246.41 337.28,246.30 337.42,246.51 337.57,246.94 337.71,246.56 337.86,246.93 338.00,246.50 338.15,246.81 338.29,246.51 338.44,246.34 338.58,245.93 338.73,245.72 338.87,245.94 339.02,245.53 339.16,245.46 339.30,245.74 339.45,245.78 339.59,245.42 339.74,245.96 339.88,245.87 340.03,245.93 340.17,245.94 340.32,246.23 340.46,246.67 340.61,246.44 340.75,246.46 340.90,246.54 341.04,246.58 341.19,246.72 341.33,247.01 341.48,246.60 341.62,246.66 341.77,247.05 341.91,247.11 342.06,247.15 342.20,246.86 342.35,247.01 342.49,247.44 342.64,247.34 342.78,247.60 342.92,247.54 343.07,247.53 343.21,247.79 343.36,248.05 343.50,248.09 343.65,247.95 343.79,247.81 343.94,247.72 344.08,247.49 344.23,247.32 344.37,247.23 344.52,246.66 344.66,246.60 344.81,246.53 344.95,246.28 345.10,245.77 345.24,246.03 345.39,245.88 345.53,245.51 345.68,245.56 345.82,245.57 345.97,245.56 346.11,246.10 346.26,245.90 346.40,246.21" fill="none" stroke="#303030" stroke-width="0.7" stroke-linejoin="round"/>
<polyline points="201.60,283.45 201.74,283.56 201.89,283.65 202.03,283.17 202.18,283.38 202.32,283.42 202.47,283.20 202.61,283.48 202.76,283.78 202.90,283.83 203.05,284.16 203.19,284.07 203.34,284.30 203.48,284.40 203.63,284.74 203.77,285.04 203.92,284.93 204.06,285.04 204.21,284.81 204.35,284.93 204.50,284.51 204.64,284.49 204.79,284.56 204.93,284.47 205.08,284.21 205.22,283.95 205.36,283.96 205.51,283.88 205.65,283.88 205.80,284.13 205.94,283.81 206.09,284.14 206.23,284.11 206.38,283.66 206.52,283.75 206.67,283.71 206.81,283.35 206.96,283.40 207.10,283.46 207.25,282.87 207.39,282.91 207.54,282.48 207.68,282.53 207.83,282.54 207.97,282.08 208.12,281.93 208.26,281.96 208.41,282.23 208.55,282.07 208.70,282.24 208.84,282.62 208.98,283.04 209.13,283.00 209.27,283.20 209.42,283.52 209.56,283.42 209.71,283.80 209.85,283.69 210.00,283.96 210.14,284.15 210.29,283.68 210.43,283.88 210.58,283.84 210.72,283.53 210.87,283.52 211.01,283.82 211.16,283.79 211.30,283.33 211.45,283.64 211.59,283.80 211.74,283.50 211.88,283.77 212.03,283.57 212.17,283.82 212.32,284.05 212.46,284.06 212.60,284.19 212.75,283.85 212.89,283.96 213.04,284.17 213.18,283.97 213.33,283.82 213.47,283.71 213.62,283.93 213.76,283.67 213.91,283.37 214.05,283.77 214.20,283.58 214.34,283.72 214.49,283.74 214.63,284.01 214.78,284.14 214.92,284.22 215.07,284.68 215.21,284.60 215.36,285.10 215.50,284.84 215.65,285.30 215.79,285.33 215.94,285.15 216.08,285.17 216.22,284.81 216.37,284.89 216.51,284.54 216.66,284.23 216.80,284.38 216.95,283.90 217.09,283.70 217.24,283.79 217.38,283.42 217.53,283.47 217.67,283.16 217.82,283.45 217.96,283.14 218.11,283.03 218.25,283.48 218.40,283.07 218.54,283.43 218.69,283.40 218.83,283.15 218.98,282.77 219.12,282.70 219.27,282.67 219.41,282.65 219.56,282.67 219.70,282.77 219.84,282.42 219.99,282.30 220.13,282.54 220.28,282.41 220.42,282.50 220.57,282.89 220.71,283.14 220.86,283.03 221.00,283.43 221.15,283.76 221.29,283.97 221.44,283.93 221.58,284.30 221.73,284.01 221.87,284.30 222.02,284.30 222.16,284.28 222.31,283.98 222.45,283.66 222.60,283.49 222.74,283.60 222.89,283.29 223.03,283.42 223.18,283.08 223.32,283.40 223.46,283.13 223.61,283.07 223.75,283.23 223.90,283.48 224.04,283.65 224.19,283.69 224.33,283.71 224.48,283.97 224.62,284.29 224.77,284.15 224.91,284.40 225.06,283.96 225.20,284.43 225.35,284.36 225.49,284.17 225.64,284.14 225.78,284.13 225.93,284.33 226.07,283.94 226.22,284.29 226.36,284.33 226.51,284.32 226.65,284.67 226.80,284.80 226.94,284.63 227.08,285.05 227.23,285.02 227.37,285.09 227.52,285.18 227.66,284.85 227.81,285.03 227.95,284.78 228.10,284.84 228.24,284.29 228.39,284.34 228.53,284.03 228.68,283.72 228.82,283.60 228.97,282.96 229.11,283.06 229.26,282.92 229.40,282.86 229.55,282.68 229.69,282.50 229.84,282.60 229.98,282.86 230.13,282.72 230.27,282.74 230.42,282.96 230.56,283.08 230.70,283.15 230.85,282.92 230.99,283.29 231.14,283.05 231.28,283.24 231.43,282.81 231.57,283.25 231.72,283.04 231.86,283.22 232.01,283.24 232.15,283.21 232.30,282.92 232.44,283.15 232.59,283.22 232.73,283.63 232.88,283.49 233.02,283.65 233.17,283.72 233.31,283.83 233.46,284.31 233.60,284.36 233.75,284.04 233.89,284.17 234.04,283.93 234.18,283.84 234.32,283.61 234.47,283.59 234.61,283.25 234.76,283.12 234.90,283.15 235.05,282.93 235.19,283.04 235.34,283.32 235.48,282.94 235.63,283.10 235.77,283.61 235.92,283.42 236.06,283.71 236.21,284.21 236.35,284.27 236.50,284.25 236.64,284.30 236.79,284.52 236.93,284.59 237.08,284.88 237.22,284.96 237.37,284.84 237.51,284.86 237.66,284.83 237.80,284.75 237.94,284.73 238.09,284.73 238.23,284.29 238.38,284.41 238.52,284.40 238.67,284.62 238.81,284.60 238.96,284.56 239.10,284.82 239.25,284.59 239.39,284.45 239.54,284.40 239.68,284.37 239.83,284.27 239.97,284.04 240.12,283.73 240.26,283.33 240.41,283.15 240.55,282.82 240.70,282.46 240.84,282.37 240.99,281.95 241.13,282.00 241.28,281.80 241.42,281.42 241.56,281.60 241.71,281.44 241.85,281.55 242.00,281.74 242.14,281.99 242.29,282.26 242.43,282.42 242.58,282.39 242.72,282.76 242.87,282.83 243.01,282.80 243.16,283.15 243.30,283.16 243.45,283.37 243.59,283.09 243.74,283.32 243.88,283.14 244.03,282.93 244.17,283.24 244.32,283.06 244.46,283.23 244.61,283.06 244.75,283.11 244.90,283.65 245.04,283.29 245.18,283.40 245.33,283.44 245.47,283.41 245.62,283.73 245.76,283.73 245.91,283.43 246.05,283.12 246.20,283.15 246.34,282.70 246.49,282.24 246.63,282.24 246.78,281.81 246.92,281.54 247.07,281.39 247.21,281.33 247.36,281.25 247.50,281.60 247.65,281.98 247.79,282.18 247.94,282.31 248.08,283.09 248.23,283.19 248.37,283.81 248.52,284.35 248.66,284.52 248.80,284.83 248.95,284.88 249.09,284.68 249.24,284.61 249.38,284.70 249.53,284.71 249.67,284.37 249.82,284.29 249.96,284.38 250.11,284.07 250.25,284.10 250.40,284.00 250.54,284.13 250.69,283.63 250.83,283.66 250.98,283.90 251.12,283.77 251.27,283.37 251.41,283.23 251.56,283.06 251.70,282.96 251.85,282.82 251.99,282.10 252.14,281.68 252.28,281.49 252.42,280.93 252.57,280.77 252.71,280.55 252.86,280.34 253.00,280.20 253.15,280.20 253.29,280.21 253.44,280.92 253.58,281.10 253.73,281.56 253.87,282.06 254.02,282.63 254.16,282.78 254.31,283.27 254.45,283.53 254.60,283.26 254.74,283.51 254.89,283.81 255.03,283.74 255.18,283.77 255.32,283.28 255.47,283.33 255.61,283.40 255.76,283.07 255.90,283.02 256.04,283.07 256.19,282.60 256.33,282.48 256.48,282.84 256.62,282.68 256.77,282.46 256.91,282.73 257.06,282.38 257.20,282.18 257.35,282.10 257.49,281.74 257.64,281.66 257.78,281.55 257.93,281.08 258.07,281.06 258.22,280.39 258.36,280.37 258.51,280.39 258.65,280.78 258.80,280.87 258.94,281.46 259.09,281.80 259.23,282.26 259.38,282.84 259.52,283.24 259.66,283.72 259.81,283.71 259.95,284.15 260.10,284.72 260.24,284.66 260.39,284.76 260.53,284.94 260.68,284.81 260.82,285.10 260.97,284.88 261.11,284.45 261.26,284.67 261.40,284.20 261.55,283.80 261.69,283.69 261.84,283.55 261.98,282.93 262.13,282.43 262.27,282.16 262.42,281.70 262.56,281.50 262.71,280.91 262.85,280.64 263.00,279.73 263.14,279.02 263.28,278.62 263.43,277.87 263.57,277.49 263.72,277.15 263.86,277.05 264.01,277.42 264.15,277.91 264.30,278.09 264.44,278.76 264.59,279.16 264.73,280.01 264.88,280.34 265.02,280.55 265.17,281.34 265.31,281.45 265.46,281.71 265.60,282.00 265.75,282.68 265.89,282.84 266.04,282.85 266.18,283.09 266.33,283.25 266.47,282.97 266.62,283.25 266.76,283.15 266.90,283.10 267.05,282.41 267.19,282.35 267.34,281.92 267.48,281.59 267.63,280.76 267.77,280.20 267.92,279.48 268.06,278.24 268.21,277.23 268.35,276.22 268.50,274.51 268.64,273.70 268.79,272.18 268.93,271.26 269.08,270.53 269.22,270.62 269.37,270.85 269.51,271.80 269.66,272.67 269.80,274.45 269.95,275.87 270.09,277.19 270.24,278.25 270.38,279.39 270.52,280.43 270.67,281.02 270.81,282.10 270.96,282.34 271.10,283.03 271.25,282.98 271.39,283.50 271.54,283.83 271.68,283.96 271.83,284.03 271.97,283.97 272.12,284.27 272.26,284.28 272.41,284.53 272.55,284.44 272.70,284.26 272.84,284.00 272.99,283.23 273.13,282.71 273.28,282.29 273.42,281.51 273.57,280.85 273.71,280.29 273.86,279.28 274.00,278.66 274.14,277.76 274.29,277.02 274.43,276.85 274.58,276.19 274.72,276.54 274.87,276.66 275.01,277.27 275.16,277.69 275.30,278.75 275.45,279.57 275.59,279.93 275.74,280.67 275.88,281.25 276.03,281.54 276.17,281.96 276.32,282.09 276.46,282.03 276.61,282.28 276.75,282.35 276.90,282.21 277.04,282.29 277.19,282.33 277.33,282.27 277.48,282.10 277.62,282.28 277.76,282.46 277.91,282.38 278.05,281.94 278.20,281.93 278.34,281.65 278.49,281.12 278.63,280.24 278.78,279.59 278.92,278.49 279.07,277.06 279.21,275.71 279.36,273.85 279.50,271.82 279.65,270.29 279.79,269.05 279.94,267.71 280.08,267.70 280.23,267.79 280.37,268.68 280.52,269.74 280.66,271.34 280.81,273.59 280.95,275.23 281.10,276.90 281.24,278.47 281.38,279.90 281.53,280.78 281.67,281.82 281.82,282.14 281.96,283.00 282.11,283.15 282.25,283.14 282.40,283.31 282.54,283.55 282.69,283.26 282.83,283.41 282.98,283.46 283.12,283.42 283.27,282.98 283.41,283.13 283.56,282.87 283.70,282.71 283.85,281.97 283.99,281.62 284.14,280.93 284.28,280.18 284.43,278.84 284.57,277.24 284.72,275.72 284.86,274.28 285.00,272.51 285.15,270.64 285.29,268.95 285.44,268.30 285.58,267.95 285.73,267.92 285.87,268.86 286.02,270.04 286.16,271.45 286.31,273.42 286.45,274.76 286.60,276.24 286.74,278.01 286.89,278.77 287.03,280.08 287.18,280.88 287.32,281.19 287.47,281.67 287.61,281.88 287.76,282.28 287.90,282.47 288.05,282.33 288.19,282.11 288.34,281.98 288.48,281.72 288.62,281.63 288.77,281.12 288.91,280.76 289.06,280.56 289.20,279.79 289.35,279.46 289.49,278.43 289.64,277.02 289.78,275.51 289.93,274.08 290.07,271.84 290.22,269.78 290.36,267.44 290.51,265.17 290.65,262.82 290.80,261.26 290.94,260.50 291.09,260.18 291.23,261.20 291.38,263.10 291.52,265.02 291.67,267.69 291.81,269.69 291.96,272.01 292.10,274.28 292.24,276.21 292.39,277.78 292.53,279.06 292.68,280.29 292.82,281.41 292.97,282.15 293.11,282.56 293.26,282.80 293.40,283.26 293.55,283.25 293.69,283.29 293.84,283.66 293.98,283.31 294.13,283.07 294.27,283.13 294.42,282.41 294.56,281.98 294.71,281.32 294.85,280.91 295.00,279.84 295.14,278.41 295.29,276.95 295.43,275.74 295.58,273.52 295.72,271.84 295.86,269.82 296.01,267.85 296.15,266.18 296.30,265.04 296.44,264.56 296.59,265.10 296.73,265.89 296.88,267.59 297.02,269.30 297.17,271.25 297.31,273.36 297.46,274.90 297.60,276.44 297.75,277.73 297.89,278.47 298.04,279.73 298.18,280.49 298.33,281.00 298.47,281.37 298.62,281.93 298.76,282.31 298.91,282.24 299.05,282.40 299.20,282.64 299.34,282.57 299.48,282.69 299.63,282.55 299.77,282.36 299.92,282.32 300.06,281.78 300.21,281.57 300.35,281.20 300.50,280.46 300.64,279.34 300.79,278.77 300.93,277.50 301.08,276.75 301.22,275.58 301.37,274.49 301.51,273.53 301.66,273.15 301.80,272.45 301.95,272.89 302.09,273.06 302.24,273.84 302.38,274.95 302.53,275.99 302.67,277.52 302.82,278.24 302.96,279.36 303.10,280.01 303.25,280.70 303.39,281.44 303.54,281.75 303.68,281.95 303.83,282.48 303.97,282.44 304.12,282.63 304.26,283.18 304.41,283.48 304.55,283.65 304.70,283.81 304.84,284.08 304.99,284.18 305.13,284.03 305.28,283.77 305.42,283.78 305.57,283.38 305.71,283.02 305.86,282.16 306.00,281.14 306.15,280.11 306.29,278.81 306.44,277.66 306.58,276.08 306.72,274.43 306.87,272.83 307.01,271.76 307.16,270.74 307.30,270.39 307.45,270.45 307.59,271.59 307.74,272.45 307.88,273.84 308.03,275.17 308.17,276.72 308.32,278.03 308.46,279.15 308.61,280.25 308.75,280.79 308.90,281.48 309.04,281.90 309.19,281.90 309.33,282.41 309.48,282.14 309.62,282.29 309.77,282.63 309.91,282.32 310.06,282.45 310.20,282.57 310.34,282.90 310.49,282.98 310.63,282.64 310.78,282.86 310.92,282.91 311.07,282.63 311.21,282.30 311.36,281.87 311.50,281.35 311.65,280.73 311.79,279.99 311.94,279.48 312.08,278.49 312.23,277.30 312.37,276.87 312.52,276.18 312.66,275.43 312.81,275.26 312.95,275.70 313.10,276.08 313.24,276.82 313.39,277.38 313.53,278.55 313.68,279.30 313.82,279.96 313.96,280.73 314.11,281.51 314.25,282.07 314.40,282.55 314.54,283.24 314.69,283.26 314.83,283.37 314.98,283.45 315.12,283.52 315.27,283.75 315.41,283.80 315.56,283.66 315.70,283.91 315.85,283.86 315.99,283.74 316.14,284.01 316.28,283.90 316.43,283.94 316.57,284.23 316.72,284.03 316.86,283.90 317.01,283.83 317.15,283.66 317.30,283.27 317.44,283.01 317.58,282.42 317.73,281.73 317.87,281.54 318.02,280.63 318.16,280.40 318.31,280.19 318.45,280.30 318.60,280.40 318.74,280.64 318.89,281.04 319.03,281.23 319.18,281.65 319.32,282.10 319.47,282.58 319.61,282.93 319.76,282.94 319.90,283.22 320.05,283.75 320.19,283.86 320.34,284.02 320.48,283.73 320.63,283.86 320.77,283.93 320.92,283.83 321.06,283.83 321.20,283.96 321.35,283.57 321.49,283.50 321.64,283.29 321.78,283.30 321.93,283.17 322.07,282.90 322.22,282.74 322.36,283.00 322.51,282.95 322.65,282.60 322.80,282.41 322.94,282.22 323.09,282.32 323.23,282.12 323.38,282.13 323.52,281.85 323.67,281.68 323.81,281.62 323.96,281.74 324.10,281.75 324.25,281.41 324.39,281.45 324.54,281.54 324.68,281.59 324.82,282.15 324.97,282.37 325.11,282.34 325.26,282.70 325.40,282.91 325.55,283.18 325.69,283.33 325.84,283.90 325.98,283.84 326.13,283.98 326.27,284.17 326.42,284.71 326.56,284.82 326.71,284.93 326.85,284.93 327.00,284.62 327.14,284.63 327.29,284.49 327.43,284.67 327.58,284.11 327.72,284.11 327.87,284.14 328.01,283.99 328.16,283.52 328.30,283.44 328.44,283.33 328.59,283.24 328.73,283.28 328.88,282.97 329.02,283.33 329.17,283.15 329.31,283.27 329.46,283.18 329.60,283.47 329.75,283.13 329.89,283.53 330.04,283.21 330.18,283.32 330.33,283.31 330.47,283.33 330.62,283.25 330.76,283.33 330.91,283.03 331.05,283.33 331.20,283.41 331.34,283.59 331.49,283.48 331.63,283.93 331.78,283.78 331.92,283.91 332.06,284.03 332.21,284.58 332.35,284.21 332.50,284.46 332.64,284.08 332.79,284.24 332.93,283.87 333.08,283.85 333.22,283.67 333.37,283.36 333.51,283.01 333.66,282.81 333.80,282.19 333.95,281.97 334.09,281.86 334.24,281.82 334.38,281.90 334.53,281.52 334.67,281.67 334.82,281.95 334.96,282.00 335.11,282.05 335.25,282.31 335.40,282.32 335.54,282.42 335.68,282.91 335.83,282.70 335.97,282.93 336.12,282.70 336.26,282.96 336.41,283.05 336.55,282.66 336.70,283.03 336.84,283.29 336.99,283.37 337.13,283.23 337.28,283.75 337.42,284.00 337.57,283.96 337.71,284.46 337.86,284.69 338.00,284.69 338.15,285.18 338.29,285.33 338.44,285.02 338.58,285.25 338.73,285.28 338.87,284.92 339.02,285.06 339.16,285.13 339.30,284.67 339.45,284.60 339.59,284.67 339.74,284.51 339.88,284.45 340.03,283.95 340.17,284.36 340.32,284.02 340.46,284.06 340.61,284.02 340.75,284.38 340.90,284.33 341.04,284.31 341.19,284.36 341.33,284.38 341.48,284.40 341.62,284.15 341.77,284.37 341.91,284.06 342.06,283.85 342.20,284.22 342.35,283.71 342.49,283.99 342.64,283.93 342.78,283.74 342.92,283.85 343.07,283.72 343.21,283.78 343.36,284.21 343.50,284.26 343.65,284.38 343.79,284.32 343.94,284.19 344.08,284.61 344.23,284.71 344.37,284.34 344.52,284.41 344.66,284.04 344.81,284.27 344.95,283.94 345.10,283.39 345.24,283.48 345.39,283.25 345.53,282.92 345.68,282.82 345.82,282.87 345.97,282.66 346.11,282.51 346.26,282.77 346.40,282.66" fill="none" stroke="#cf3a44" stroke-width="0.75" stroke-linejoin="round"/>
<line x1="272.5" y1="236" x2="280.5" y2="266" stroke="#b4b4b4" stroke-width="0.35"/>
<line x1="280.8" y1="226" x2="291" y2="259.5" stroke="#b4b4b4" stroke-width="0.35"/>
<line x1="286" y1="230" x2="297" y2="263" stroke="#b4b4b4" stroke-width="0.35"/>
<line x1="291.3" y1="237" x2="301.6" y2="272" stroke="#b4b4b4" stroke-width="0.35"/>
<rect x="201.6" y="209.2" width="144.79999999999998" height="78.0" fill="none" stroke="#4a4a4a" stroke-width="0.8"/>
<line x1="201.6" y1="287.2" x2="201.6" y2="288.8" stroke="#444" stroke-width="0.5"/>
<text x="201.6" y="295.4" font-size="5.3" fill="#222" text-anchor="middle" font-family="Liberation Sans, sans-serif" stroke="#222" stroke-width="0.12" >600</text>
<line x1="212.0" y1="287.2" x2="212.0" y2="288.2" stroke="#444" stroke-width="0.5"/>
<line x1="222.4" y1="287.2" x2="222.4" y2="288.8" stroke="#444" stroke-width="0.5"/>
<text x="222.4" y="295.4" font-size="5.3" fill="#222" text-anchor="middle" font-family="Liberation Sans, sans-serif" stroke="#222" stroke-width="0.12" >605</text>
<line x1="232.8" y1="287.2" x2="232.8" y2="288.2" stroke="#444" stroke-width="0.5"/>
<line x1="243.2" y1="287.2" x2="243.2" y2="288.8" stroke="#444" stroke-width="0.5"/>
<text x="243.2" y="295.4" font-size="5.3" fill="#222" text-anchor="middle" font-family="Liberation Sans, sans-serif" stroke="#222" stroke-width="0.12" >610</text>
<line x1="253.6" y1="287.2" x2="253.6" y2="288.2" stroke="#444" stroke-width="0.5"/>
<line x1="264.0" y1="287.2" x2="264.0" y2="288.8" stroke="#444" stroke-width="0.5"/>
<text x="264.0" y="295.4" font-size="5.3" fill="#222" text-anchor="middle" font-family="Liberation Sans, sans-serif" stroke="#222" stroke-width="0.12" >615</text>
<line x1="274.5" y1="287.2" x2="274.5" y2="288.2" stroke="#444" stroke-width="0.5"/>
<line x1="284.9" y1="287.2" x2="284.9" y2="288.8" stroke="#444" stroke-width="0.5"/>
<text x="284.9" y="295.4" font-size="5.3" fill="#222" text-anchor="middle" font-family="Liberation Sans, sans-serif" stroke="#222" stroke-width="0.12" >620</text>
<line x1="295.3" y1="287.2" x2="295.3" y2="288.2" stroke="#444" stroke-width="0.5"/>
<line x1="305.7" y1="287.2" x2="305.7" y2="288.8" stroke="#444" stroke-width="0.5"/>
<text x="305.7" y="295.4" font-size="5.3" fill="#222" text-anchor="middle" font-family="Liberation Sans, sans-serif" stroke="#222" stroke-width="0.12" >625</text>
<line x1="316.1" y1="287.2" x2="316.1" y2="288.2" stroke="#444" stroke-width="0.5"/>
<line x1="326.5" y1="287.2" x2="326.5" y2="288.8" stroke="#444" stroke-width="0.5"/>
<text x="326.5" y="295.4" font-size="5.3" fill="#222" text-anchor="middle" font-family="Liberation Sans, sans-serif" stroke="#222" stroke-width="0.12" >630</text>
<line x1="336.9" y1="287.2" x2="336.9" y2="288.2" stroke="#444" stroke-width="0.5"/>
<line x1="347.3" y1="287.2" x2="347.3" y2="288.8" stroke="#444" stroke-width="0.5"/>
<text x="347.3" y="295.4" font-size="5.3" fill="#222" text-anchor="middle" font-family="Liberation Sans, sans-serif" stroke="#222" stroke-width="0.12" >635</text>
<text x="249.9" y="301.6" font-size="5.8" fill="#222" text-anchor="start" font-family="Liberation Sans, sans-serif" textLength="44.4" lengthAdjust="spacingAndGlyphs" stroke="#222" stroke-width="0.1" >Wavelength (nm)</text>
<text x="0" y="0" font-size="5.55" fill="#222" text-anchor="middle" font-family="Liberation Sans, sans-serif" stroke="#222" stroke-width="0.08" transform="translate(197.8,249.2) rotate(-90)">Normalized intensity (a.u.)</text>
<text x="235.7" y="219.7" font-size="5.85" fill="#111" text-anchor="middle" font-family="Liberation Sans, sans-serif" stroke="#111" stroke-width="0.08" >Radial microdroplet</text>
<text x="311" y="219.7" font-size="5.85" fill="#e0202a" text-anchor="middle" font-family="Liberation Sans, sans-serif" stroke="#e0202a" stroke-width="0.08" >Bipolar microdroplet</text>
<text x="240" y="263.8" font-size="5.5" fill="#2a3ad0" text-anchor="start" font-family="Liberation Sans, sans-serif" textLength="33.5" lengthAdjust="spacingAndGlyphs" stroke="#2a3ad0" stroke-width="0.18" >Δλ = 2.56 nm</text>
<path d="M269,254.4 h8.5" stroke="#2a3ad0" stroke-width="0.5"/><path d="M279.6,254.4 l-2.6,-1.2 v2.4z" fill="#2a3ad0"/>
<path d="M302.4,254.4 h-9" stroke="#2a3ad0" stroke-width="0.5"/><path d="M291.4,254.4 l2.6,-1.2 v2.4z" fill="#2a3ad0"/>
</g><g id="panel-c">
<text x="365.9" y="22.5" font-size="16.4" fill="#111" text-anchor="start" font-family="Liberation Serif, serif" >(c)</text>
<svg x="389" y="4.6" width="48.8" height="49" viewBox="389 4.6 48.8 49">
<rect x="389" y="4.6" width="48.8" height="49" fill="#2a1a76"/>
<g filter="url(#b03)">
<rect x="423.1" y="29.4" width="14.699999999999989" height="2.0" fill="#cdb8b4"/>
<rect x="423.6" y="29.599999999999998" width="1.4" height="1.6" fill="#f4f0fa"/>
<rect x="425.7" y="29.599999999999998" width="1.4" height="1.6" fill="#8ab4f0"/>
<rect x="427.8" y="29.599999999999998" width="1.4" height="1.6" fill="#f6dcb0"/>
<rect x="429.9" y="29.599999999999998" width="1.4" height="1.6" fill="#a8dcf0"/>
<rect x="432.0" y="29.599999999999998" width="1.4" height="1.6" fill="#f0b890"/>
<rect x="434.1" y="29.599999999999998" width="1.4" height="1.6" fill="#dcd8fa"/>
<rect x="436.2" y="29.599999999999998" width="1.4" height="1.6" fill="#f4f0fa"/>
</g>
<radialGradient id="fg1" gradientUnits="userSpaceOnUse" cx="413.1" cy="29.799999999999997" r="12.799999999999999"><stop offset="0" stop-color="#fff6b8"/><stop offset="0.22" stop-color="#f2da78"/><stop offset="0.6" stop-color="#eed070"/><stop offset="0.84" stop-color="#c0925a"/><stop offset="1" stop-color="#5a3c72"/></radialGradient>
<circle cx="413.1" cy="29.799999999999997" r="12.5" fill="#4a3070" opacity="0.55" filter="url(#b1)"/>
<g filter="url(#b07)">
<path d="M413.1,29.799999999999997 L423.95,26.48 Q427.48,33.65 420.84,38.10z" fill="url(#fg1)"/>
<path d="M413.1,29.799999999999997 L422.59,36.45 L420.84,38.10z" fill="#b07a3a" opacity="0.28"/>
<path d="M413.1,29.799999999999997 L416.79,40.53 Q409.25,44.18 404.54,37.24z" fill="url(#fg1)"/>
<path d="M413.1,29.799999999999997 L406.12,39.06 L404.54,37.24z" fill="#b07a3a" opacity="0.28"/>
<path d="M413.1,29.799999999999997 L402.25,33.12 Q398.72,25.95 405.36,21.50z" fill="url(#fg1)"/>
<path d="M413.1,29.799999999999997 L403.61,23.15 L405.36,21.50z" fill="#b07a3a" opacity="0.28"/>
<path d="M413.1,29.799999999999997 L409.20,19.63 Q416.80,16.00 421.56,22.95z" fill="url(#fg1)"/>
<path d="M413.1,29.799999999999997 L420.10,21.15 L421.56,22.95z" fill="#b07a3a" opacity="0.28"/>
</g>
<circle cx="413.1" cy="29.799999999999997" r="0.9" fill="#fff8d0" opacity="0.7" filter="url(#b05)"/>
<rect x="426.3" y="49.2" width="7.6" height="1.8" fill="#fff"/>
</svg>
<text x="390.7" y="15.200000000000001" font-size="9.8" fill="#fff" text-anchor="start" font-family="Liberation Sans, sans-serif" textLength="10.7" lengthAdjust="spacingAndGlyphs" >(1)</text>
<svg x="441.3" y="4.6" width="48.8" height="49" viewBox="441.3 4.6 48.8 49">
<rect x="441.3" y="4.6" width="48.8" height="49" fill="#2a1a76"/>
<g filter="url(#b03)">
<rect x="475.90000000000003" y="28.9" width="14.199999999999989" height="2.0" fill="#cdb8b4"/>
<rect x="476.4" y="29.099999999999998" width="1.4" height="1.6" fill="#f4f0fa"/>
<rect x="478.5" y="29.099999999999998" width="1.4" height="1.6" fill="#8ab4f0"/>
<rect x="480.6" y="29.099999999999998" width="1.4" height="1.6" fill="#f6dcb0"/>
<rect x="482.7" y="29.099999999999998" width="1.4" height="1.6" fill="#a8dcf0"/>
<rect x="484.8" y="29.099999999999998" width="1.4" height="1.6" fill="#f0b890"/>
<rect x="486.9" y="29.099999999999998" width="1.4" height="1.6" fill="#dcd8fa"/>
<rect x="489.0" y="29.099999999999998" width="1.4" height="1.6" fill="#f4f0fa"/>
</g>
<radialGradient id="fg2" gradientUnits="userSpaceOnUse" cx="465.90000000000003" cy="29.299999999999997" r="12.799999999999999"><stop offset="0" stop-color="#fff6b8"/><stop offset="0.22" stop-color="#f2da78"/><stop offset="0.6" stop-color="#eed070"/><stop offset="0.84" stop-color="#c0925a"/><stop offset="1" stop-color="#5a3c72"/></radialGradient>
<circle cx="465.90000000000003" cy="29.299999999999997" r="12.5" fill="#4a3070" opacity="0.55" filter="url(#b1)"/>
<g filter="url(#b07)">
<path d="M465.90000000000003,29.299999999999997 L476.18,24.50 Q480.67,31.11 474.72,36.44z" fill="url(#fg2)"/>
<path d="M465.90000000000003,29.299999999999997 L476.23,34.56 L474.72,36.44z" fill="#b07a3a" opacity="0.28"/>
<path d="M465.90000000000003,29.299999999999997 L471.05,39.41 Q464.09,44.07 458.46,37.86z" fill="url(#fg2)"/>
<path d="M465.90000000000003,29.299999999999997 L460.28,39.44 L458.46,37.86z" fill="#b07a3a" opacity="0.28"/>
<path d="M465.90000000000003,29.299999999999997 L455.62,34.10 Q451.13,27.49 457.08,22.16z" fill="url(#fg2)"/>
<path d="M465.90000000000003,29.299999999999997 L455.57,24.04 L457.08,22.16z" fill="#b07a3a" opacity="0.28"/>
<path d="M465.90000000000003,29.299999999999997 L460.62,19.77 Q467.64,15.12 473.33,21.33z" fill="url(#fg2)"/>
<path d="M465.90000000000003,29.299999999999997 L471.63,19.76 L473.33,21.33z" fill="#b07a3a" opacity="0.28"/>
</g>
<circle cx="465.90000000000003" cy="29.299999999999997" r="0.9" fill="#fff8d0" opacity="0.7" filter="url(#b05)"/>
<rect x="478.6" y="49.2" width="7.6" height="1.8" fill="#fff"/>
</svg>
<text x="443.0" y="15.200000000000001" font-size="9.8" fill="#fff" text-anchor="start" font-family="Liberation Sans, sans-serif" textLength="10.7" lengthAdjust="spacingAndGlyphs" >(2)</text>
<svg x="493.6" y="4.6" width="48.8" height="49" viewBox="493.6 4.6 48.8 49">
<rect x="493.6" y="4.6" width="48.8" height="49" fill="#2a1a76"/>
<g filter="url(#b03)">
<rect x="528.1" y="28.9" width="14.299999999999955" height="2.0" fill="#cdb8b4"/>
<rect x="528.6" y="29.099999999999998" width="1.4" height="1.6" fill="#f4f0fa"/>
<rect x="530.7" y="29.099999999999998" width="1.4" height="1.6" fill="#8ab4f0"/>
<rect x="532.8" y="29.099999999999998" width="1.4" height="1.6" fill="#f6dcb0"/>
<rect x="534.9" y="29.099999999999998" width="1.4" height="1.6" fill="#a8dcf0"/>
<rect x="537.0" y="29.099999999999998" width="1.4" height="1.6" fill="#f0b890"/>
<rect x="539.1" y="29.099999999999998" width="1.4" height="1.6" fill="#dcd8fa"/>
<rect x="541.2" y="29.099999999999998" width="1.4" height="1.6" fill="#f4f0fa"/>
</g>
<radialGradient id="fg3" gradientUnits="userSpaceOnUse" cx="518.1" cy="29.299999999999997" r="12.799999999999999"><stop offset="0" stop-color="#fff6b8"/><stop offset="0.22" stop-color="#f2da78"/><stop offset="0.6" stop-color="#eed070"/><stop offset="0.84" stop-color="#c0925a"/><stop offset="1" stop-color="#5a3c72"/></radialGradient>
<circle cx="518.1" cy="29.299999999999997" r="12.5" fill="#4a3070" opacity="0.55" filter="url(#b1)"/>
<g filter="url(#b07)">
<path d="M518.1,29.299999999999997 L528.38,24.50 Q532.87,31.11 526.92,36.44z" fill="url(#fg3)"/>
<path d="M518.1,29.299999999999997 L528.43,34.56 L526.92,36.44z" fill="#b07a3a" opacity="0.28"/>
<path d="M518.1,29.299999999999997 L523.25,39.41 Q516.29,44.07 510.66,37.86z" fill="url(#fg3)"/>
<path d="M518.1,29.299999999999997 L512.48,39.44 L510.66,37.86z" fill="#b07a3a" opacity="0.28"/>
<path d="M518.1,29.299999999999997 L507.82,34.10 Q503.33,27.49 509.28,22.16z" fill="url(#fg3)"/>
<path d="M518.1,29.299999999999997 L507.77,24.04 L509.28,22.16z" fill="#b07a3a" opacity="0.28"/>
<path d="M518.1,29.299999999999997 L512.82,19.77 Q519.84,15.12 525.53,21.33z" fill="url(#fg3)"/>
<path d="M518.1,29.299999999999997 L523.83,19.76 L525.53,21.33z" fill="#b07a3a" opacity="0.28"/>
</g>
<circle cx="518.1" cy="29.299999999999997" r="0.9" fill="#fff8d0" opacity="0.7" filter="url(#b05)"/>
<rect x="530.9" y="49.2" width="7.6" height="1.8" fill="#fff"/>
</svg>
<text x="495.3" y="15.200000000000001" font-size="9.8" fill="#fff" text-anchor="start" font-family="Liberation Sans, sans-serif" textLength="10.7" lengthAdjust="spacingAndGlyphs" >(3)</text>
<svg x="389" y="56" width="48.8" height="48.5" viewBox="389 56 48.8 48.5">
<rect x="389" y="56" width="48.8" height="48.5" fill="#2a1a76"/>
<g filter="url(#b03)">
<rect x="423" y="81.19999999999999" width="14.800000000000011" height="2.0" fill="#cdb8b4"/>
<rect x="423.5" y="81.39999999999999" width="1.4" height="1.6" fill="#f4f0fa"/>
<rect x="425.6" y="81.39999999999999" width="1.4" height="1.6" fill="#8ab4f0"/>
<rect x="427.7" y="81.39999999999999" width="1.4" height="1.6" fill="#f6dcb0"/>
<rect x="429.8" y="81.39999999999999" width="1.4" height="1.6" fill="#a8dcf0"/>
<rect x="431.9" y="81.39999999999999" width="1.4" height="1.6" fill="#f0b890"/>
<rect x="434.0" y="81.39999999999999" width="1.4" height="1.6" fill="#dcd8fa"/>
<rect x="436.1" y="81.39999999999999" width="1.4" height="1.6" fill="#f4f0fa"/>
</g>
<radialGradient id="fg4" gradientUnits="userSpaceOnUse" cx="413" cy="81.6" r="13.0"><stop offset="0" stop-color="#fff6b8"/><stop offset="0.22" stop-color="#f2da78"/><stop offset="0.6" stop-color="#eed070"/><stop offset="0.84" stop-color="#c0925a"/><stop offset="1" stop-color="#5a3c72"/></radialGradient>
<circle cx="413" cy="81.6" r="12.700000000000001" fill="#4a3070" opacity="0.55" filter="url(#b1)"/>
<g filter="url(#b07)">
<path d="M413,81.6 L408.04,71.19 Q412.47,66.48 417.23,70.87z" fill="url(#fg4)"/>
<path d="M413,81.6 L414.94,69.98 L417.23,70.87z" fill="#b07a3a" opacity="0.28"/>
<path d="M413,81.6 L419.86,72.33 Q425.83,73.58 424.34,79.50z" fill="url(#fg4)"/>
<path d="M413,81.6 L423.88,77.09 L424.34,79.50z" fill="#b07a3a" opacity="0.28"/>
<path d="M413,81.6 L424.51,82.30 Q426.36,88.70 420.02,90.75z" fill="url(#fg4)"/>
<path d="M413,81.6 L421.96,89.25 L420.02,90.75z" fill="#b07a3a" opacity="0.28"/>
<path d="M413,81.6 L417.78,92.09 Q413.53,96.72 408.96,92.40z" fill="url(#fg4)"/>
<path d="M413,81.6 L411.26,93.25 L408.96,92.40z" fill="#b07a3a" opacity="0.28"/>
<path d="M413,81.6 L406.14,90.87 Q400.17,89.62 401.66,83.70z" fill="url(#fg4)"/>
<path d="M413,81.6 L402.12,86.11 L401.66,83.70z" fill="#b07a3a" opacity="0.28"/>
<path d="M413,81.6 L401.50,80.70 Q399.64,74.50 405.82,72.57z" fill="url(#fg4)"/>
<path d="M413,81.6 L403.91,74.11 L405.82,72.57z" fill="#b07a3a" opacity="0.28"/>
</g>
<circle cx="413" cy="81.6" r="0.9" fill="#fff8d0" opacity="0.7" filter="url(#b05)"/>
<rect x="426.3" y="100.2" width="7.6" height="1.8" fill="#fff"/>
</svg>
<text x="390.7" y="66.3" font-size="9.8" fill="#fff" text-anchor="start" font-family="Liberation Sans, sans-serif" textLength="10.7" lengthAdjust="spacingAndGlyphs" >(4)</text>
<svg x="441.3" y="56" width="48.8" height="48.5" viewBox="441.3 56 48.8 48.5">
<rect x="441.3" y="56" width="48.8" height="48.5" fill="#2a1a76"/>
<g filter="url(#b03)">
<rect x="475.1" y="81.39999999999999" width="15.0" height="2.0" fill="#cdb8b4"/>
<rect x="475.6" y="81.6" width="1.4" height="1.6" fill="#f4f0fa"/>
<rect x="477.7" y="81.6" width="1.4" height="1.6" fill="#8ab4f0"/>
<rect x="479.8" y="81.6" width="1.4" height="1.6" fill="#f6dcb0"/>
<rect x="481.9" y="81.6" width="1.4" height="1.6" fill="#a8dcf0"/>
<rect x="484.0" y="81.6" width="1.4" height="1.6" fill="#f0b890"/>
<rect x="486.1" y="81.6" width="1.4" height="1.6" fill="#dcd8fa"/>
<rect x="488.2" y="81.6" width="1.4" height="1.6" fill="#f4f0fa"/>
</g>
<radialGradient id="fg5" gradientUnits="userSpaceOnUse" cx="465.1" cy="81.8" r="13.0"><stop offset="0" stop-color="#fff6b8"/><stop offset="0.22" stop-color="#f2da78"/><stop offset="0.6" stop-color="#eed070"/><stop offset="0.84" stop-color="#c0925a"/><stop offset="1" stop-color="#5a3c72"/></radialGradient>
<circle cx="465.1" cy="81.8" r="12.700000000000001" fill="#4a3070" opacity="0.55" filter="url(#b1)"/>
<g filter="url(#b07)">
<path d="M465.1,81.8 L461.25,70.93 Q466.16,66.71 470.42,71.57z" fill="url(#fg5)"/>
<path d="M465.1,81.8 L468.25,70.45 L470.42,71.57z" fill="#b07a3a" opacity="0.28"/>
<path d="M465.1,81.8 L472.89,73.30 Q478.70,75.17 476.60,80.90z" fill="url(#fg5)"/>
<path d="M465.1,81.8 L476.39,78.45 L476.60,80.90z" fill="#b07a3a" opacity="0.28"/>
<path d="M465.1,81.8 L476.47,83.70 Q477.64,90.26 471.13,91.63z" fill="url(#fg5)"/>
<path d="M465.1,81.8 L473.21,90.34 L471.13,91.63z" fill="#b07a3a" opacity="0.28"/>
<path d="M465.1,81.8 L468.76,92.74 Q464.04,96.89 459.95,92.12z" fill="url(#fg5)"/>
<path d="M465.1,81.8 L462.15,93.20 L459.95,92.12z" fill="#b07a3a" opacity="0.28"/>
<path d="M465.1,81.8 L457.31,90.30 Q451.50,88.43 453.60,82.70z" fill="url(#fg5)"/>
<path d="M465.1,81.8 L453.81,85.15 L453.60,82.70z" fill="#b07a3a" opacity="0.28"/>
<path d="M465.1,81.8 L453.76,79.70 Q452.56,73.34 458.90,72.07z" fill="url(#fg5)"/>
<path d="M465.1,81.8 L456.84,73.40 L458.90,72.07z" fill="#b07a3a" opacity="0.28"/>
</g>
<circle cx="465.1" cy="81.8" r="0.9" fill="#fff8d0" opacity="0.7" filter="url(#b05)"/>
<rect x="478.6" y="100.2" width="7.6" height="1.8" fill="#fff"/>
</svg>
<text x="443.0" y="66.3" font-size="9.8" fill="#fff" text-anchor="start" font-family="Liberation Sans, sans-serif" textLength="10.7" lengthAdjust="spacingAndGlyphs" >(5)</text>
<svg x="493.6" y="56" width="48.8" height="48.5" viewBox="493.6 56 48.8 48.5">
<rect x="493.6" y="56" width="48.8" height="48.5" fill="#2a1a76"/>
<g filter="url(#b03)">
<rect x="528.0" y="80.6" width="14.399999999999977" height="2.0" fill="#cdb8b4"/>
<rect x="528.5" y="80.8" width="1.4" height="1.6" fill="#f4f0fa"/>
<rect x="530.6" y="80.8" width="1.4" height="1.6" fill="#8ab4f0"/>
<rect x="532.7" y="80.8" width="1.4" height="1.6" fill="#f6dcb0"/>
<rect x="534.8" y="80.8" width="1.4" height="1.6" fill="#a8dcf0"/>
<rect x="536.9" y="80.8" width="1.4" height="1.6" fill="#f0b890"/>
<rect x="539.0" y="80.8" width="1.4" height="1.6" fill="#dcd8fa"/>
<rect x="541.1" y="80.8" width="1.4" height="1.6" fill="#f4f0fa"/>
</g>
<g filter="url(#b05)"><circle cx="518.0" cy="81" r="12.5" fill="#6a4a5a" opacity="0.6"/><circle cx="518.0" cy="81" r="11.6" fill="url(#gball)"/></g>
<g filter="url(#b07)">
<path d="M518.39,82.45 L522.48,93.31 L520.27,93.90z" fill="#3a2470" opacity="0.7"/>
<path d="M517.37,82.36 L513.74,93.39 L511.25,92.23z" fill="#3a2470" opacity="0.7"/>
<path d="M516.61,81.56 L506.49,87.25 L505.38,84.50z" fill="#3a2470" opacity="0.7"/>
<path d="M516.59,80.49 L505.26,77.94 L506.28,75.15z" fill="#3a2470" opacity="0.7"/>
<path d="M517.37,79.64 L511.35,69.71 L513.63,68.65z" fill="#3a2470" opacity="0.7"/>
</g>
<circle cx="521.2" cy="80.2" r="4.2" fill="#fff4c0" opacity="0.95" filter="url(#b1)"/>
<rect x="530.9" y="100.2" width="7.6" height="1.8" fill="#fff"/>
</svg>
<text x="495.3" y="66.3" font-size="9.8" fill="#fff" text-anchor="start" font-family="Liberation Sans, sans-serif" textLength="10.7" lengthAdjust="spacingAndGlyphs" >(6)</text>
<svg x="389" y="108.1" width="48.8" height="48.6" viewBox="389 108.1 48.8 48.6">
<rect x="389" y="108.1" width="48.8" height="48.6" fill="#2a1a76"/>
<g filter="url(#b03)">
<rect x="422.6" y="133.1" width="15.199999999999989" height="2.0" fill="#cdb8b4"/>
<rect x="423.1" y="133.29999999999998" width="1.4" height="1.6" fill="#f4f0fa"/>
<rect x="425.2" y="133.29999999999998" width="1.4" height="1.6" fill="#8ab4f0"/>
<rect x="427.3" y="133.29999999999998" width="1.4" height="1.6" fill="#f6dcb0"/>
<rect x="429.4" y="133.29999999999998" width="1.4" height="1.6" fill="#a8dcf0"/>
<rect x="431.5" y="133.29999999999998" width="1.4" height="1.6" fill="#f0b890"/>
<rect x="433.6" y="133.29999999999998" width="1.4" height="1.6" fill="#dcd8fa"/>
<rect x="435.7" y="133.29999999999998" width="1.4" height="1.6" fill="#f4f0fa"/>
</g>
<g filter="url(#b05)"><circle cx="412.6" cy="133.5" r="12.700000000000001" fill="#6a4a5a" opacity="0.6"/><circle cx="412.6" cy="133.5" r="11.8" fill="url(#gball)"/></g>
<g filter="url(#b05)"><ellipse cx="413.6" cy="138.0" rx="7" ry="4.5" fill="#fffbe0" opacity="0.55"/><ellipse cx="411.6" cy="129.5" rx="7.5" ry="5" fill="#fff6c4" opacity="0.75"/><path d="M405.6,132.5 q5,-2 8,0 q4,1 5,-4" fill="none" stroke="#a8803a" stroke-width="1.1" opacity="0.85"/></g>
<rect x="426.3" y="152.3" width="7.6" height="1.8" fill="#fff"/>
</svg>
<text x="390.7" y="118.39999999999999" font-size="9.8" fill="#fff" text-anchor="start" font-family="Liberation Sans, sans-serif" textLength="10.7" lengthAdjust="spacingAndGlyphs" >(7)</text>
<svg x="441.3" y="108.1" width="48.8" height="48.6" viewBox="441.3 108.1 48.8 48.6">
<rect x="441.3" y="108.1" width="48.8" height="48.6" fill="#2a1a76"/>
<g filter="url(#b03)">
<rect x="476.1" y="131.7" width="14.0" height="2.0" fill="#cdb8b4"/>
<rect x="476.6" y="131.89999999999998" width="1.4" height="1.6" fill="#f4f0fa"/>
<rect x="478.7" y="131.89999999999998" width="1.4" height="1.6" fill="#8ab4f0"/>
<rect x="480.8" y="131.89999999999998" width="1.4" height="1.6" fill="#f6dcb0"/>
<rect x="482.9" y="131.89999999999998" width="1.4" height="1.6" fill="#a8dcf0"/>
<rect x="485.0" y="131.89999999999998" width="1.4" height="1.6" fill="#f0b890"/>
<rect x="487.1" y="131.89999999999998" width="1.4" height="1.6" fill="#dcd8fa"/>
</g>
<g filter="url(#b05)"><circle cx="466.1" cy="132.1" r="12.700000000000001" fill="#6a4a5a" opacity="0.6"/><circle cx="466.1" cy="132.1" r="11.8" fill="url(#gball)"/></g>
<circle cx="461.1" cy="133.1" r="7" fill="#8a7a3a" opacity="0.35" filter="url(#b2)"/>
<rect x="478.6" y="152.3" width="7.6" height="1.8" fill="#fff"/>
</svg>
<text x="443.0" y="118.39999999999999" font-size="9.8" fill="#fff" text-anchor="start" font-family="Liberation Sans, sans-serif" textLength="10.7" lengthAdjust="spacingAndGlyphs" >(8)</text>
<svg x="493.6" y="108.1" width="48.8" height="48.6" viewBox="493.6 108.1 48.8 48.6">
<rect x="493.6" y="108.1" width="48.8" height="48.6" fill="#2a1a76"/>
<g filter="url(#b03)">
<rect x="528.0" y="132.7" width="14.399999999999977" height="2.0" fill="#cdb8b4"/>
<rect x="528.5" y="132.89999999999998" width="1.4" height="1.6" fill="#f4f0fa"/>
<rect x="530.6" y="132.89999999999998" width="1.4" height="1.6" fill="#8ab4f0"/>
<rect x="532.7" y="132.89999999999998" width="1.4" height="1.6" fill="#f6dcb0"/>
<rect x="534.8" y="132.89999999999998" width="1.4" height="1.6" fill="#a8dcf0"/>
<rect x="536.9" y="132.89999999999998" width="1.4" height="1.6" fill="#f0b890"/>
<rect x="539.0" y="132.89999999999998" width="1.4" height="1.6" fill="#dcd8fa"/>
<rect x="541.1" y="132.89999999999998" width="1.4" height="1.6" fill="#f4f0fa"/>
</g>
<g filter="url(#b05)"><circle cx="518.0" cy="133.1" r="12.700000000000001" fill="#6a4a5a" opacity="0.6"/><circle cx="518.0" cy="133.1" r="11.8" fill="url(#gball)"/></g>
<circle cx="513.0" cy="134.1" r="7" fill="#8a7a3a" opacity="0.35" filter="url(#b2)"/>
<rect x="530.9" y="152.3" width="7.6" height="1.8" fill="#fff"/>
</svg>
<text x="495.3" y="118.39999999999999" font-size="9.8" fill="#fff" text-anchor="start" font-family="Liberation Sans, sans-serif" textLength="10.7" lengthAdjust="spacingAndGlyphs" >(9)</text>
</g>
<g id="plot-c">
<rect x="389.5" y="167.4" width="156.0" height="126.1" fill="#fff" stroke="#222" stroke-width="0.9"/>
<line x1="387.5" y1="286.9" x2="389.5" y2="286.9" stroke="#222" stroke-width="0.6"/>
<text x="385.6" y="289.4" font-size="7.0" fill="#111" text-anchor="end" font-family="Liberation Sans, sans-serif" textLength="8.2" lengthAdjust="spacingAndGlyphs" stroke="#111" stroke-width="0.25" >0.0</text>
<line x1="388.3" y1="280.3" x2="389.5" y2="280.3" stroke="#222" stroke-width="0.5"/>
<line x1="387.5" y1="273.6" x2="389.5" y2="273.6" stroke="#222" stroke-width="0.6"/>
<text x="385.6" y="276.1" font-size="7.0" fill="#111" text-anchor="end" font-family="Liberation Sans, sans-serif" textLength="8.2" lengthAdjust="spacingAndGlyphs" stroke="#111" stroke-width="0.25" >0.2</text>
<line x1="388.3" y1="267.0" x2="389.5" y2="267.0" stroke="#222" stroke-width="0.5"/>
<line x1="387.5" y1="260.3" x2="389.5" y2="260.3" stroke="#222" stroke-width="0.6"/>
<text x="385.6" y="262.8" font-size="7.0" fill="#111" text-anchor="end" font-family="Liberation Sans, sans-serif" textLength="8.2" lengthAdjust="spacingAndGlyphs" stroke="#111" stroke-width="0.25" >0.4</text>
<line x1="388.3" y1="253.7" x2="389.5" y2="253.7" stroke="#222" stroke-width="0.5"/>
<line x1="387.5" y1="247.1" x2="389.5" y2="247.1" stroke="#222" stroke-width="0.6"/>
<text x="385.6" y="249.6" font-size="7.0" fill="#111" text-anchor="end" font-family="Liberation Sans, sans-serif" textLength="8.2" lengthAdjust="spacingAndGlyphs" stroke="#111" stroke-width="0.25" >0.6</text>
<line x1="388.3" y1="240.4" x2="389.5" y2="240.4" stroke="#222" stroke-width="0.5"/>
<line x1="387.5" y1="233.8" x2="389.5" y2="233.8" stroke="#222" stroke-width="0.6"/>
<text x="385.6" y="236.3" font-size="7.0" fill="#111" text-anchor="end" font-family="Liberation Sans, sans-serif" textLength="8.2" lengthAdjust="spacingAndGlyphs" stroke="#111" stroke-width="0.25" >0.8</text>
<line x1="388.3" y1="227.1" x2="389.5" y2="227.1" stroke="#222" stroke-width="0.5"/>
<line x1="387.5" y1="220.5" x2="389.5" y2="220.5" stroke="#222" stroke-width="0.6"/>
<text x="385.6" y="223.0" font-size="7.0" fill="#111" text-anchor="end" font-family="Liberation Sans, sans-serif" textLength="8.2" lengthAdjust="spacingAndGlyphs" stroke="#111" stroke-width="0.25" >1.0</text>
<line x1="388.3" y1="213.9" x2="389.5" y2="213.9" stroke="#222" stroke-width="0.5"/>
<line x1="387.5" y1="207.2" x2="389.5" y2="207.2" stroke="#222" stroke-width="0.6"/>
<text x="385.6" y="209.7" font-size="7.0" fill="#111" text-anchor="end" font-family="Liberation Sans, sans-serif" textLength="8.2" lengthAdjust="spacingAndGlyphs" stroke="#111" stroke-width="0.25" >1.2</text>
<line x1="388.3" y1="200.6" x2="389.5" y2="200.6" stroke="#222" stroke-width="0.5"/>
<line x1="387.5" y1="193.9" x2="389.5" y2="193.9" stroke="#222" stroke-width="0.6"/>
<text x="385.6" y="196.4" font-size="7.0" fill="#111" text-anchor="end" font-family="Liberation Sans, sans-serif" textLength="8.2" lengthAdjust="spacingAndGlyphs" stroke="#111" stroke-width="0.25" >1.4</text>
<line x1="388.3" y1="187.3" x2="389.5" y2="187.3" stroke="#222" stroke-width="0.5"/>
<line x1="387.5" y1="180.7" x2="389.5" y2="180.7" stroke="#222" stroke-width="0.6"/>
<text x="385.6" y="183.2" font-size="7.0" fill="#111" text-anchor="end" font-family="Liberation Sans, sans-serif" textLength="8.2" lengthAdjust="spacingAndGlyphs" stroke="#111" stroke-width="0.25" >1.6</text>
<line x1="388.3" y1="174.0" x2="389.5" y2="174.0" stroke="#222" stroke-width="0.5"/>
<line x1="387.5" y1="167.4" x2="389.5" y2="167.4" stroke="#222" stroke-width="0.6"/>
<text x="385.6" y="169.9" font-size="7.0" fill="#111" text-anchor="end" font-family="Liberation Sans, sans-serif" textLength="8.2" lengthAdjust="spacingAndGlyphs" stroke="#111" stroke-width="0.25" >1.8</text>
<line x1="389.5" y1="293.5" x2="389.5" y2="295.5" stroke="#222" stroke-width="0.6"/>
<text x="389.5" y="303" font-size="6.7" fill="#111" text-anchor="middle" font-family="Liberation Sans, sans-serif" stroke="#111" stroke-width="0.25" >0</text>
<line x1="399.9" y1="293.5" x2="399.9" y2="294.7" stroke="#222" stroke-width="0.5"/>
<line x1="410.3" y1="293.5" x2="410.3" y2="295.5" stroke="#222" stroke-width="0.6"/>
<text x="410.3" y="303" font-size="6.7" fill="#111" text-anchor="middle" font-family="Liberation Sans, sans-serif" stroke="#111" stroke-width="0.25" >2</text>
<line x1="420.7" y1="293.5" x2="420.7" y2="294.7" stroke="#222" stroke-width="0.5"/>
<line x1="431.1" y1="293.5" x2="431.1" y2="295.5" stroke="#222" stroke-width="0.6"/>
<text x="431.1" y="303" font-size="6.7" fill="#111" text-anchor="middle" font-family="Liberation Sans, sans-serif" stroke="#111" stroke-width="0.25" >4</text>
<line x1="441.5" y1="293.5" x2="441.5" y2="294.7" stroke="#222" stroke-width="0.5"/>
<line x1="451.9" y1="293.5" x2="451.9" y2="295.5" stroke="#222" stroke-width="0.6"/>
<text x="451.9" y="303" font-size="6.7" fill="#111" text-anchor="middle" font-family="Liberation Sans, sans-serif" stroke="#111" stroke-width="0.25" >6</text>
<line x1="462.3" y1="293.5" x2="462.3" y2="294.7" stroke="#222" stroke-width="0.5"/>
<line x1="472.7" y1="293.5" x2="472.7" y2="295.5" stroke="#222" stroke-width="0.6"/>
<text x="472.7" y="303" font-size="6.7" fill="#111" text-anchor="middle" font-family="Liberation Sans, sans-serif" stroke="#111" stroke-width="0.25" >8</text>
<line x1="483.1" y1="293.5" x2="483.1" y2="294.7" stroke="#222" stroke-width="0.5"/>
<line x1="493.5" y1="293.5" x2="493.5" y2="295.5" stroke="#222" stroke-width="0.6"/>
<text x="493.5" y="303" font-size="6.7" fill="#111" text-anchor="middle" font-family="Liberation Sans, sans-serif" stroke="#111" stroke-width="0.25" >10</text>
<line x1="503.9" y1="293.5" x2="503.9" y2="294.7" stroke="#222" stroke-width="0.5"/>
<line x1="514.3" y1="293.5" x2="514.3" y2="295.5" stroke="#222" stroke-width="0.6"/>
<text x="514.3" y="303" font-size="6.7" fill="#111" text-anchor="middle" font-family="Liberation Sans, sans-serif" stroke="#111" stroke-width="0.25" >12</text>
<line x1="524.7" y1="293.5" x2="524.7" y2="294.7" stroke="#222" stroke-width="0.5"/>
<line x1="535.1" y1="293.5" x2="535.1" y2="295.5" stroke="#222" stroke-width="0.6"/>
<text x="535.1" y="303" font-size="6.7" fill="#111" text-anchor="middle" font-family="Liberation Sans, sans-serif" stroke="#111" stroke-width="0.25" >14</text>
<line x1="545.5" y1="293.5" x2="545.5" y2="294.7" stroke="#222" stroke-width="0.5"/>
<text x="451" y="310.1" font-size="7.6" fill="#111" text-anchor="start" font-family="Liberation Sans, sans-serif" textLength="31.5" lengthAdjust="spacingAndGlyphs" stroke="#111" stroke-width="0.2" >Time(min)</text>
<text x="0" y="0" font-size="7.7" fill="#111" text-anchor="middle" font-family="Liberation Sans, sans-serif" stroke="#111" stroke-width="0.2" transform="translate(372.8,227.8) rotate(-90)">Wavelength shift(nm)</text>
<rect x="446" y="254.6" width="26.8" height="27" fill="#331c6e"/>
<g filter="url(#b09)">
<ellipse cx="462.2" cy="270.6" rx="3.9" ry="2.5" fill="#f3dfa4" transform="rotate(45 462.2 270.6)"/>
<ellipse cx="457.0" cy="270.6" rx="3.9" ry="2.5" fill="#f3dfa4" transform="rotate(135 457.0 270.6)"/>
<ellipse cx="457.0" cy="265.4" rx="3.9" ry="2.5" fill="#f3dfa4" transform="rotate(225 457.0 265.4)"/>
<ellipse cx="462.2" cy="265.4" rx="3.9" ry="2.5" fill="#f3dfa4" transform="rotate(315 462.2 265.4)"/>
<circle cx="459.6" cy="268.0" r="1.8" fill="#f3dfa4"/>
</g>
<rect x="464.6" y="278.8" width="6" height="1.2" fill="#e8e8f0"/>
<rect x="468.2" y="231.4" width="26.6" height="27" fill="#331c6e"/>
<g filter="url(#b09)">
<ellipse cx="485.0" cy="246.7" rx="3.9" ry="2.5" fill="#f3dfa4" transform="rotate(30 485.0 246.7)"/>
<ellipse cx="479.9" cy="248.0" rx="3.9" ry="2.5" fill="#f3dfa4" transform="rotate(120 479.9 248.0)"/>
<ellipse cx="478.6" cy="243.0" rx="3.9" ry="2.5" fill="#f3dfa4" transform="rotate(210 478.6 243.0)"/>
<ellipse cx="483.7" cy="241.6" rx="3.9" ry="2.5" fill="#f3dfa4" transform="rotate(300 483.7 241.6)"/>
<circle cx="481.8" cy="244.8" r="1.8" fill="#f3dfa4"/>
</g>
<rect x="486.8" y="255.6" width="6" height="1.2" fill="#e8e8f0"/>
<rect x="489.5" y="207" width="27.5" height="27.2" fill="#331c6e"/>
<g filter="url(#b09)">
<circle cx="503.1" cy="220.4" r="7.6" fill="#b08868"/><circle cx="503.1" cy="220.4" r="6.7" fill="#f3dcaa"/>
</g>
<rect x="508.1" y="231.2" width="6" height="1.2" fill="#e8e8f0"/>
<polyline points="389.5,286.9 393.3,286.9 396.5,286.9 400.3,286.9 403.5,286.9 406.3,265.0 410.3,244.4 413.8,217.2 417.2,193.9 423.8,178.7 431.6,175.3 451.9,175.3 473.2,175.3 493.5,175.3 520.1,175.3 545.5,175.3" fill="none" stroke="#111" stroke-width="1.0"/>
<rect x="387.8" y="285.2" width="3.4" height="3.4" fill="#111"/>
<rect x="391.6" y="285.2" width="3.4" height="3.4" fill="#111"/>
<rect x="394.8" y="285.2" width="3.4" height="3.4" fill="#111"/>
<rect x="398.6" y="285.2" width="3.4" height="3.4" fill="#111"/>
<rect x="401.8" y="285.2" width="3.4" height="3.4" fill="#111"/>
<path d="M406.3,261.7 V268.3 M404.9,261.7 h2.8 M404.9,268.3 h2.8" stroke="#111" stroke-width="0.6" fill="none"/>
<rect x="404.6" y="263.3" width="3.4" height="3.4" fill="#111"/>
<path d="M410.3,241.1 V247.7 M408.9,241.1 h2.8 M408.9,247.7 h2.8" stroke="#111" stroke-width="0.6" fill="none"/>
<rect x="408.6" y="242.7" width="3.4" height="3.4" fill="#111"/>
<path d="M413.8,211.9 V222.5 M412.4,211.9 h2.8 M412.4,222.5 h2.8" stroke="#111" stroke-width="0.6" fill="none"/>
<rect x="412.1" y="215.5" width="3.4" height="3.4" fill="#111"/>
<path d="M417.2,189.3 V198.6 M415.8,189.3 h2.8 M415.8,198.6 h2.8" stroke="#111" stroke-width="0.6" fill="none"/>
<rect x="415.5" y="192.2" width="3.4" height="3.4" fill="#111"/>
<path d="M423.8,176.7 V180.7 M422.4,176.7 h2.8 M422.4,180.7 h2.8" stroke="#111" stroke-width="0.6" fill="none"/>
<rect x="422.1" y="177.0" width="3.4" height="3.4" fill="#111"/>
<path d="M431.6,174.0 V176.7 M430.2,174.0 h2.8 M430.2,176.7 h2.8" stroke="#111" stroke-width="0.6" fill="none"/>
<rect x="429.9" y="173.6" width="3.4" height="3.4" fill="#111"/>
<path d="M451.9,174.0 V176.7 M450.5,174.0 h2.8 M450.5,176.7 h2.8" stroke="#111" stroke-width="0.6" fill="none"/>
<rect x="450.2" y="173.6" width="3.4" height="3.4" fill="#111"/>
<rect x="471.5" y="173.6" width="3.4" height="3.4" fill="#111"/>
<rect x="491.8" y="173.6" width="3.4" height="3.4" fill="#111"/>
<rect x="518.4" y="173.6" width="3.4" height="3.4" fill="#111"/>
<rect x="543.8" y="173.6" width="3.4" height="3.4" fill="#111"/>
<polyline points="389.5,286.9 395.7,286.9 402.0,286.9 408.2,286.9 414.1,286.9 419.9,267.6 425.6,246.1 432.1,220.5 438.2,197.9 450.1,188.3 462.3,186.0 483.1,186.3 503.9,186.0 524.7,185.3 545.5,186.3" fill="none" stroke="#c8141e" stroke-width="1.0"/>
<circle cx="389.5" cy="286.9" r="1.8" fill="#c8141e"/>
<circle cx="395.7" cy="286.9" r="1.8" fill="#c8141e"/>
<circle cx="402.0" cy="286.9" r="1.8" fill="#c8141e"/>
<circle cx="408.2" cy="286.9" r="1.8" fill="#c8141e"/>
<circle cx="414.1" cy="286.9" r="1.8" fill="#c8141e"/>
<path d="M419.9,264.3 V271.0 M418.5,264.3 h2.8 M418.5,271.0 h2.8" stroke="#c8141e" stroke-width="0.6" fill="none"/>
<circle cx="419.9" cy="267.6" r="1.8" fill="#c8141e"/>
<path d="M425.6,242.7 V249.4 M424.2,242.7 h2.8 M424.2,249.4 h2.8" stroke="#c8141e" stroke-width="0.6" fill="none"/>
<circle cx="425.6" cy="246.1" r="1.8" fill="#c8141e"/>
<path d="M432.1,215.2 V225.8 M430.7,215.2 h2.8 M430.7,225.8 h2.8" stroke="#c8141e" stroke-width="0.6" fill="none"/>
<circle cx="432.1" cy="220.5" r="1.8" fill="#c8141e"/>
<path d="M438.2,191.3 V204.6 M436.8,191.3 h2.8 M436.8,204.6 h2.8" stroke="#c8141e" stroke-width="0.6" fill="none"/>
<circle cx="438.2" cy="197.9" r="1.8" fill="#c8141e"/>
<path d="M450.1,185.0 V191.6 M448.7,185.0 h2.8 M448.7,191.6 h2.8" stroke="#c8141e" stroke-width="0.6" fill="none"/>
<circle cx="450.1" cy="188.3" r="1.8" fill="#c8141e"/>
<path d="M462.3,184.0 V188.0 M460.9,184.0 h2.8 M460.9,188.0 h2.8" stroke="#c8141e" stroke-width="0.6" fill="none"/>
<circle cx="462.3" cy="186.0" r="1.8" fill="#c8141e"/>
<path d="M483.1,185.0 V187.6 M481.7,185.0 h2.8 M481.7,187.6 h2.8" stroke="#c8141e" stroke-width="0.6" fill="none"/>
<circle cx="483.1" cy="186.3" r="1.8" fill="#c8141e"/>
<path d="M503.9,184.6 V187.3 M502.5,184.6 h2.8 M502.5,187.3 h2.8" stroke="#c8141e" stroke-width="0.6" fill="none"/>
<circle cx="503.9" cy="186.0" r="1.8" fill="#c8141e"/>
<path d="M524.7,184.0 V186.6 M523.3,184.0 h2.8 M523.3,186.6 h2.8" stroke="#c8141e" stroke-width="0.6" fill="none"/>
<circle cx="524.7" cy="185.3" r="1.8" fill="#c8141e"/>
<path d="M545.5,185.0 V187.6 M544.1,185.0 h2.8 M544.1,187.6 h2.8" stroke="#c8141e" stroke-width="0.6" fill="none"/>
<circle cx="545.5" cy="186.3" r="1.8" fill="#c8141e"/>
<polyline points="420.7,286.9 431.1,274.3 441.9,260.3 452.3,243.7 462.3,228.5 473.2,214.5 483.1,206.6 493.5,201.2 503.9,200.2 514.3,200.2 524.7,199.9 535.1,199.9 545.5,200.2" fill="none" stroke="#4fe02a" stroke-width="1.0"/>
<path d="M420.7,284.9 l2.2,3.6 h-4.4z" fill="#4fe02a"/>
<path d="M431.1,272.3 V276.3 M429.7,272.3 h2.8 M429.7,276.3 h2.8" stroke="#4fe02a" stroke-width="0.6" fill="none"/>
<path d="M431.1,272.3 l2.2,3.6 h-4.4z" fill="#4fe02a"/>
<path d="M441.9,257.0 V263.7 M440.5,257.0 h2.8 M440.5,263.7 h2.8" stroke="#4fe02a" stroke-width="0.6" fill="none"/>
<path d="M441.9,258.3 l2.2,3.6 h-4.4z" fill="#4fe02a"/>
<path d="M452.3,240.4 V247.1 M450.9,240.4 h2.8 M450.9,247.1 h2.8" stroke="#4fe02a" stroke-width="0.6" fill="none"/>
<path d="M452.3,241.7 l2.2,3.6 h-4.4z" fill="#4fe02a"/>
<path d="M462.3,225.1 V231.8 M460.9,225.1 h2.8 M460.9,231.8 h2.8" stroke="#4fe02a" stroke-width="0.6" fill="none"/>
<path d="M462.3,226.5 l2.2,3.6 h-4.4z" fill="#4fe02a"/>
<path d="M473.2,207.9 V221.2 M471.8,207.9 h2.8 M471.8,221.2 h2.8" stroke="#4fe02a" stroke-width="0.6" fill="none"/>
<path d="M473.2,212.5 l2.2,3.6 h-4.4z" fill="#4fe02a"/>
<path d="M483.1,202.9 V210.2 M481.7,202.9 h2.8 M481.7,210.2 h2.8" stroke="#4fe02a" stroke-width="0.6" fill="none"/>
<path d="M483.1,204.6 l2.2,3.6 h-4.4z" fill="#4fe02a"/>
<path d="M493.5,198.6 V203.9 M492.1,198.6 h2.8 M492.1,203.9 h2.8" stroke="#4fe02a" stroke-width="0.6" fill="none"/>
<path d="M493.5,199.2 l2.2,3.6 h-4.4z" fill="#4fe02a"/>
<path d="M503.9,198.9 V201.6 M502.5,198.9 h2.8 M502.5,201.6 h2.8" stroke="#4fe02a" stroke-width="0.6" fill="none"/>
<path d="M503.9,198.2 l2.2,3.6 h-4.4z" fill="#4fe02a"/>
<path d="M514.3,198.9 V201.6 M512.9,198.9 h2.8 M512.9,201.6 h2.8" stroke="#4fe02a" stroke-width="0.6" fill="none"/>
<path d="M514.3,198.2 l2.2,3.6 h-4.4z" fill="#4fe02a"/>
<path d="M524.7,198.6 V201.2 M523.3,198.6 h2.8 M523.3,201.2 h2.8" stroke="#4fe02a" stroke-width="0.6" fill="none"/>
<path d="M524.7,197.9 l2.2,3.6 h-4.4z" fill="#4fe02a"/>
<path d="M535.1,198.6 V201.2 M533.7,198.6 h2.8 M533.7,201.2 h2.8" stroke="#4fe02a" stroke-width="0.6" fill="none"/>
<path d="M535.1,197.9 l2.2,3.6 h-4.4z" fill="#4fe02a"/>
<path d="M545.5,198.9 V201.6 M544.1,198.9 h2.8 M544.1,201.6 h2.8" stroke="#4fe02a" stroke-width="0.6" fill="none"/>
<path d="M545.5,198.2 l2.2,3.6 h-4.4z" fill="#4fe02a"/>
<polyline points="389.5,286.9 399.9,286.9 410.3,286.9 420.7,286.9 431.1,286.9 441.5,286.9 451.9,286.9 462.3,286.9 472.7,286.9 483.1,285.6 493.5,286.9 503.9,286.9 514.3,286.9 524.7,286.9 535.1,286.9 545.5,286.9" fill="none" stroke="#d42ad0" stroke-width="1.0"/>
<path d="M389.5,288.5 l1.5,-2.6 h-3z" fill="#d42ad0"/>
<path d="M399.9,288.5 l1.5,-2.6 h-3z" fill="#d42ad0"/>
<path d="M410.3,288.5 l1.5,-2.6 h-3z" fill="#d42ad0"/>
<path d="M420.7,288.5 l1.5,-2.6 h-3z" fill="#d42ad0"/>
<path d="M431.1,288.5 l1.5,-2.6 h-3z" fill="#d42ad0"/>
<path d="M441.5,288.5 l1.5,-2.6 h-3z" fill="#d42ad0"/>
<path d="M451.9,288.5 l1.5,-2.6 h-3z" fill="#d42ad0"/>
<path d="M462.3,288.5 l1.5,-2.6 h-3z" fill="#d42ad0"/>
<path d="M472.7,288.5 l1.5,-2.6 h-3z" fill="#d42ad0"/>
<path d="M483.1,287.2 l1.5,-2.6 h-3z" fill="#d42ad0"/>
<path d="M493.5,288.5 l1.5,-2.6 h-3z" fill="#d42ad0"/>
<path d="M503.9,288.5 l1.5,-2.6 h-3z" fill="#d42ad0"/>
<path d="M514.3,288.5 l1.5,-2.6 h-3z" fill="#d42ad0"/>
<path d="M524.7,288.5 l1.5,-2.6 h-3z" fill="#d42ad0"/>
<path d="M535.1,288.5 l1.5,-2.6 h-3z" fill="#d42ad0"/>
<path d="M545.5,288.5 l1.5,-2.6 h-3z" fill="#d42ad0"/>
<polyline points="389.5,286.9 399.9,286.9 410.3,286.9 420.7,286.6 431.1,286.6 441.5,286.6 451.9,286.2 462.3,286.2 472.7,285.9 483.1,286.2 493.5,285.9 503.9,285.6 514.3,285.9 524.7,285.6 535.1,286.2 545.5,286.2" fill="none" stroke="#2a2ae0" stroke-width="1.3"/>
<path d="M389.5,284.8 l2.1,2.1 l-2.1,2.1 l-2.1,-2.1z" fill="#2a2ae0"/>
<path d="M399.9,284.8 l2.1,2.1 l-2.1,2.1 l-2.1,-2.1z" fill="#2a2ae0"/>
<path d="M410.3,284.8 l2.1,2.1 l-2.1,2.1 l-2.1,-2.1z" fill="#2a2ae0"/>
<path d="M420.7,284.5 l2.1,2.1 l-2.1,2.1 l-2.1,-2.1z" fill="#2a2ae0"/>
<path d="M431.1,284.5 l2.1,2.1 l-2.1,2.1 l-2.1,-2.1z" fill="#2a2ae0"/>
<path d="M441.5,284.5 l2.1,2.1 l-2.1,2.1 l-2.1,-2.1z" fill="#2a2ae0"/>
<path d="M451.9,284.1 l2.1,2.1 l-2.1,2.1 l-2.1,-2.1z" fill="#2a2ae0"/>
<path d="M462.3,284.1 l2.1,2.1 l-2.1,2.1 l-2.1,-2.1z" fill="#2a2ae0"/>
<path d="M472.7,283.8 l2.1,2.1 l-2.1,2.1 l-2.1,-2.1z" fill="#2a2ae0"/>
<path d="M483.1,284.1 l2.1,2.1 l-2.1,2.1 l-2.1,-2.1z" fill="#2a2ae0"/>
<path d="M493.5,283.8 l2.1,2.1 l-2.1,2.1 l-2.1,-2.1z" fill="#2a2ae0"/>
<path d="M503.9,283.5 l2.1,2.1 l-2.1,2.1 l-2.1,-2.1z" fill="#2a2ae0"/>
<path d="M514.3,283.8 l2.1,2.1 l-2.1,2.1 l-2.1,-2.1z" fill="#2a2ae0"/>
<path d="M524.7,283.5 l2.1,2.1 l-2.1,2.1 l-2.1,-2.1z" fill="#2a2ae0"/>
<path d="M535.1,284.1 l2.1,2.1 l-2.1,2.1 l-2.1,-2.1z" fill="#2a2ae0"/>
<path d="M545.5,284.1 l2.1,2.1 l-2.1,2.1 l-2.1,-2.1z" fill="#2a2ae0"/>
<ellipse cx="431.1" cy="274.3" rx="5.2" ry="3.3" fill="none" stroke="#3a8ae8" stroke-width="0.7"/>
<path d="M436.3,274.3 h5.6" stroke="#3a8ae8" stroke-width="0.7"/><path d="M444.3,274.3 l-3,-1.6 v3.2z" fill="#3a8ae8"/>
<ellipse cx="452.3" cy="243.7" rx="6" ry="3.9" fill="none" stroke="#3a8ae8" stroke-width="0.7"/>
<path d="M458.3,243.7 h5.6" stroke="#3a8ae8" stroke-width="0.7"/><path d="M466.3,243.7 l-3,-1.6 v3.2z" fill="#3a8ae8"/>
<ellipse cx="473.2" cy="214.5" rx="7" ry="5" fill="none" stroke="#3a8ae8" stroke-width="0.7"/>
<path d="M480.2,214.5 h5.6" stroke="#3a8ae8" stroke-width="0.7"/><path d="M488.2,214.5 l-3,-1.6 v3.2z" fill="#3a8ae8"/>
<text x="393.3" y="179.8" font-size="6.3" fill="#111" text-anchor="start" font-family="Liberation Sans, sans-serif" stroke="#111" stroke-width="0.2" >0.66 U/ml</text>
<text x="458" y="184.2" font-size="6.3" fill="#c8141e" text-anchor="start" font-family="Liberation Sans, sans-serif" stroke="#c8141e" stroke-width="0.2" >0.066 U/ml</text>
<text x="485.4" y="196.2" font-size="6.3" fill="#4fe02a" text-anchor="start" font-family="Liberation Sans, sans-serif" stroke="#4fe02a" stroke-width="0.2" >0.0066 U/ml</text>
<text x="477" y="281.2" font-size="6.2" fill="#c81ec8" text-anchor="start" font-family="Liberation Sans, sans-serif" stroke="#c81ec8" stroke-width="0.2" >0.00066 U/ml</text>
<text x="520" y="282.4" font-size="5.2" fill="#2a2ae0" text-anchor="start" font-family="Liberation Sans, sans-serif" font-weight="bold" >PBS</text>
</g>
</svg>
</body></html>
